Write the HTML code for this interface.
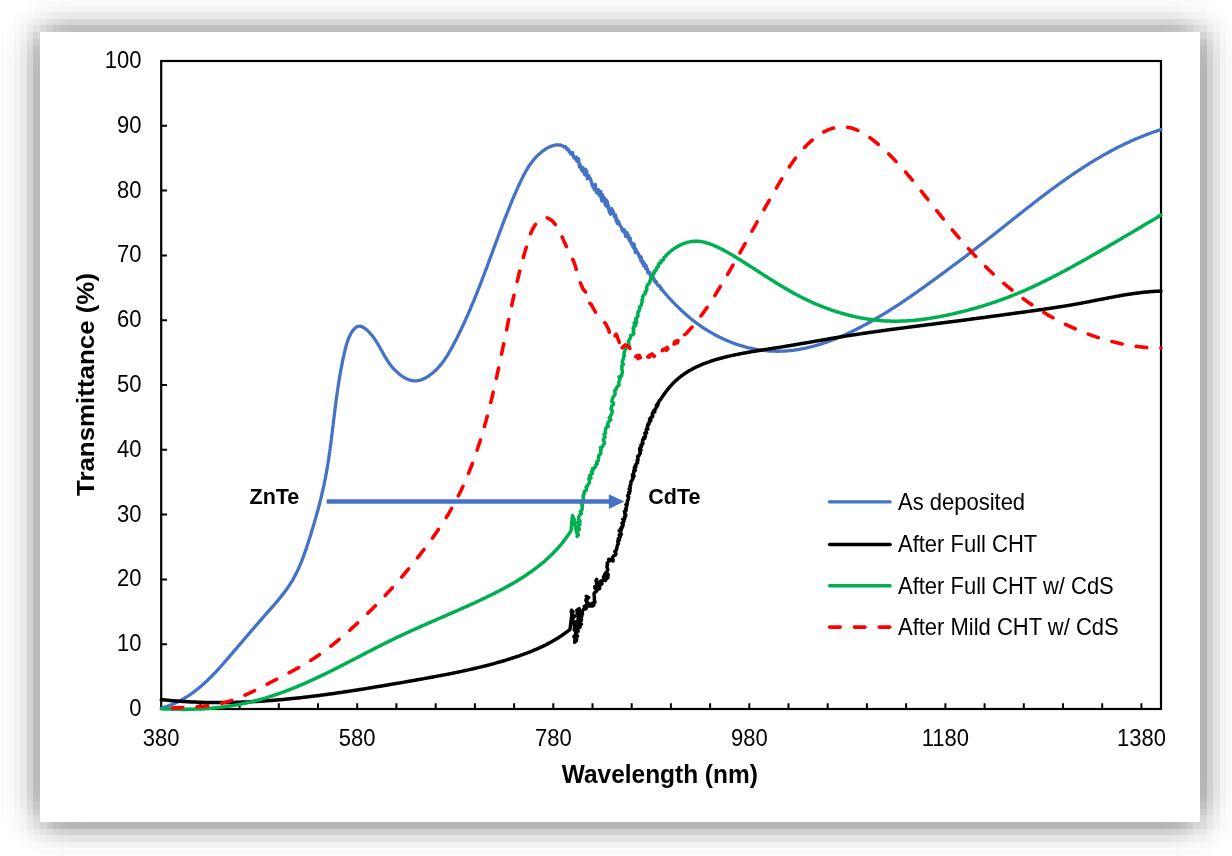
<!DOCTYPE html>
<html><head><meta charset="utf-8"><style>
html,body{margin:0;padding:0;background:#fff;}
body{width:1232px;height:856px;overflow:hidden;position:relative;}
svg{position:absolute;left:0;top:0;}
text{font-family:"Liberation Sans",Arial,sans-serif;fill:#000;}
</style></head><body>
<svg width="1232" height="856" viewBox="0 0 1232 856">
<g shape-rendering="crispEdges"><rect x="53.2" y="-7.5" width="1133.8" height="6.8" fill="#fdfdfd"/><rect x="33.4" y="-0.9" width="6.8" height="6.8" fill="#fdfdfd"/><rect x="40.0" y="-0.9" width="6.8" height="6.8" fill="#fcfcfc"/><rect x="46.6" y="-0.9" width="13.4" height="6.8" fill="#fbfbfb"/><rect x="59.8" y="-0.9" width="1120.7" height="6.8" fill="#fafafa"/><rect x="1180.2" y="-0.9" width="13.4" height="6.8" fill="#fbfbfb"/><rect x="1193.4" y="-0.9" width="6.8" height="6.8" fill="#fcfcfc"/><rect x="1200.0" y="-0.9" width="13.4" height="6.8" fill="#fdfdfd"/><rect x="26.8" y="5.7" width="6.8" height="6.8" fill="#fcfcfc"/><rect x="33.4" y="5.7" width="6.8" height="6.8" fill="#fbfbfb"/><rect x="40.0" y="5.7" width="6.8" height="6.8" fill="#f9f9f9"/><rect x="46.6" y="5.7" width="6.8" height="6.8" fill="#f8f8f8"/><rect x="53.2" y="5.7" width="13.4" height="6.8" fill="#f6f6f6"/><rect x="66.4" y="5.7" width="1107.5" height="6.8" fill="#f5f5f5"/><rect x="1173.6" y="5.7" width="6.8" height="6.8" fill="#f6f6f6"/><rect x="1180.2" y="5.7" width="6.8" height="6.8" fill="#f7f7f7"/><rect x="1186.8" y="5.7" width="6.8" height="6.8" fill="#f8f8f8"/><rect x="1193.4" y="5.7" width="13.4" height="6.8" fill="#fafafa"/><rect x="1206.6" y="5.7" width="6.8" height="6.8" fill="#fcfcfc"/><rect x="1213.2" y="5.7" width="6.8" height="6.8" fill="#fdfdfd"/><rect x="13.6" y="12.2" width="6.8" height="6.8" fill="#fdfdfd"/><rect x="20.2" y="12.2" width="6.8" height="6.8" fill="#fcfcfc"/><rect x="26.8" y="12.2" width="6.8" height="6.8" fill="#f9f9f9"/><rect x="33.4" y="12.2" width="6.8" height="6.8" fill="#f6f6f6"/><rect x="40.0" y="12.2" width="6.8" height="6.8" fill="#f3f3f3"/><rect x="46.6" y="12.2" width="6.8" height="6.8" fill="#efefef"/><rect x="53.2" y="12.2" width="6.8" height="6.8" fill="#ececec"/><rect x="59.8" y="12.2" width="6.8" height="6.8" fill="#ebebeb"/><rect x="66.4" y="12.2" width="6.8" height="6.8" fill="#eaeaea"/><rect x="73.0" y="12.2" width="1094.3" height="6.8" fill="#e9e9e9"/><rect x="1167.0" y="12.2" width="6.8" height="6.8" fill="#eaeaea"/><rect x="1173.6" y="12.2" width="6.8" height="6.8" fill="#ebebeb"/><rect x="1180.2" y="12.2" width="6.8" height="6.8" fill="#ededed"/><rect x="1186.8" y="12.2" width="6.8" height="6.8" fill="#f0f0f0"/><rect x="1193.4" y="12.2" width="6.8" height="6.8" fill="#f3f3f3"/><rect x="1200.0" y="12.2" width="6.8" height="6.8" fill="#f5f5f5"/><rect x="1206.6" y="12.2" width="6.8" height="6.8" fill="#f8f8f8"/><rect x="1213.2" y="12.2" width="6.8" height="6.8" fill="#fbfbfb"/><rect x="1219.8" y="12.2" width="6.8" height="6.8" fill="#fdfdfd"/><rect x="13.6" y="18.8" width="6.8" height="6.8" fill="#fcfcfc"/><rect x="20.2" y="18.8" width="6.8" height="6.8" fill="#f9f9f9"/><rect x="26.8" y="18.8" width="6.8" height="6.8" fill="#f4f4f4"/><rect x="33.4" y="18.8" width="6.8" height="6.8" fill="#ededed"/><rect x="40.0" y="18.8" width="6.8" height="6.8" fill="#e8e8e8"/><rect x="46.6" y="18.8" width="6.8" height="6.8" fill="#e1e1e1"/><rect x="53.2" y="18.8" width="6.8" height="6.8" fill="#dcdcdc"/><rect x="59.8" y="18.8" width="6.8" height="6.8" fill="#d9d9d9"/><rect x="66.4" y="18.8" width="13.4" height="6.8" fill="#d7d7d7"/><rect x="79.5" y="18.8" width="1087.7" height="6.8" fill="#d6d6d6"/><rect x="1167.0" y="18.8" width="6.8" height="6.8" fill="#d7d7d7"/><rect x="1173.6" y="18.8" width="6.8" height="6.8" fill="#d9d9d9"/><rect x="1180.2" y="18.8" width="6.8" height="6.8" fill="#dddddd"/><rect x="1186.8" y="18.8" width="6.8" height="6.8" fill="#e2e2e2"/><rect x="1193.4" y="18.8" width="6.8" height="6.8" fill="#e9e9e9"/><rect x="1200.0" y="18.8" width="6.8" height="6.8" fill="#ececec"/><rect x="1206.6" y="18.8" width="6.8" height="6.8" fill="#f3f3f3"/><rect x="1213.2" y="18.8" width="6.8" height="6.8" fill="#f8f8f8"/><rect x="1219.8" y="18.8" width="6.8" height="6.8" fill="#fcfcfc"/><rect x="7.0" y="25.4" width="6.8" height="6.8" fill="#fdfdfd"/><rect x="13.6" y="25.4" width="6.8" height="6.8" fill="#fafafa"/><rect x="20.2" y="25.4" width="6.8" height="6.8" fill="#f6f6f6"/><rect x="26.8" y="25.4" width="6.8" height="6.8" fill="#ededed"/><rect x="33.4" y="25.4" width="6.8" height="6.8" fill="#e3e3e3"/><rect x="40.0" y="25.4" width="6.8" height="6.8" fill="#dadada"/><rect x="46.6" y="25.4" width="6.8" height="6.8" fill="#d0d0d0"/><rect x="53.2" y="25.4" width="6.8" height="6.8" fill="#c7c7c7"/><rect x="59.8" y="25.4" width="6.8" height="6.8" fill="#c3c3c3"/><rect x="66.4" y="25.4" width="6.8" height="6.8" fill="#c0c0c0"/><rect x="73.0" y="25.4" width="6.8" height="6.8" fill="#bfbfbf"/><rect x="79.5" y="25.4" width="1081.1" height="6.8" fill="#bebebe"/><rect x="1160.5" y="25.4" width="6.8" height="6.8" fill="#bfbfbf"/><rect x="1167.0" y="25.4" width="6.8" height="6.8" fill="#c0c0c0"/><rect x="1173.6" y="25.4" width="6.8" height="6.8" fill="#c3c3c3"/><rect x="1180.2" y="25.4" width="6.8" height="6.8" fill="#c9c9c9"/><rect x="1186.8" y="25.4" width="6.8" height="6.8" fill="#d1d1d1"/><rect x="1193.4" y="25.4" width="6.8" height="6.8" fill="#dcdcdc"/><rect x="1200.0" y="25.4" width="6.8" height="6.8" fill="#e1e1e1"/><rect x="1206.6" y="25.4" width="6.8" height="6.8" fill="#ececec"/><rect x="1213.2" y="25.4" width="6.8" height="6.8" fill="#f4f4f4"/><rect x="1219.8" y="25.4" width="6.8" height="6.8" fill="#fafafa"/><rect x="1226.4" y="25.4" width="6.8" height="6.8" fill="#fdfdfd"/><rect x="7.0" y="822.0" width="6.8" height="6.8" fill="#fdfdfd"/><rect x="13.6" y="822.0" width="6.8" height="6.8" fill="#f9f9f9"/><rect x="20.2" y="822.0" width="6.8" height="6.8" fill="#f5f5f5"/><rect x="26.8" y="822.0" width="6.8" height="6.8" fill="#ebebeb"/><rect x="33.4" y="822.0" width="6.8" height="6.8" fill="#dfdfdf"/><rect x="40.0" y="822.0" width="6.8" height="6.8" fill="#d5d5d5"/><rect x="46.6" y="822.0" width="6.8" height="6.8" fill="#c9c9c9"/><rect x="53.2" y="822.0" width="6.8" height="6.8" fill="#bfbfbf"/><rect x="59.8" y="822.0" width="6.8" height="6.8" fill="#bbbbbb"/><rect x="66.4" y="822.0" width="6.8" height="6.8" fill="#b7b7b7"/><rect x="73.0" y="822.0" width="13.4" height="6.8" fill="#b6b6b6"/><rect x="86.1" y="822.0" width="1074.5" height="6.8" fill="#b5b5b5"/><rect x="1160.5" y="822.0" width="6.8" height="6.8" fill="#b6b6b6"/><rect x="1167.0" y="822.0" width="6.8" height="6.8" fill="#b7b7b7"/><rect x="1173.6" y="822.0" width="6.8" height="6.8" fill="#bbbbbb"/><rect x="1180.2" y="822.0" width="6.8" height="6.8" fill="#c2c2c2"/><rect x="1186.8" y="822.0" width="6.8" height="6.8" fill="#cbcbcb"/><rect x="1193.4" y="822.0" width="6.8" height="6.8" fill="#d8d8d8"/><rect x="1200.0" y="822.0" width="6.8" height="6.8" fill="#dcdcdc"/><rect x="1206.6" y="822.0" width="6.8" height="6.8" fill="#e9e9e9"/><rect x="1213.2" y="822.0" width="6.8" height="6.8" fill="#f2f2f2"/><rect x="1219.8" y="822.0" width="6.8" height="6.8" fill="#f9f9f9"/><rect x="1226.4" y="822.0" width="6.8" height="6.8" fill="#fdfdfd"/><rect x="7.0" y="828.6" width="6.8" height="6.8" fill="#fdfdfd"/><rect x="13.6" y="828.6" width="6.8" height="6.8" fill="#fbfbfb"/><rect x="20.2" y="828.6" width="6.8" height="6.8" fill="#f8f8f8"/><rect x="26.8" y="828.6" width="6.8" height="6.8" fill="#f2f2f2"/><rect x="33.4" y="828.6" width="6.8" height="6.8" fill="#ebebeb"/><rect x="40.0" y="828.6" width="6.8" height="6.8" fill="#e4e4e4"/><rect x="46.6" y="828.6" width="6.8" height="6.8" fill="#dddddd"/><rect x="53.2" y="828.6" width="6.8" height="6.8" fill="#d7d7d7"/><rect x="59.8" y="828.6" width="6.8" height="6.8" fill="#d4d4d4"/><rect x="66.4" y="828.6" width="6.8" height="6.8" fill="#d2d2d2"/><rect x="73.0" y="828.6" width="6.8" height="6.8" fill="#d1d1d1"/><rect x="79.5" y="828.6" width="1081.1" height="6.8" fill="#d0d0d0"/><rect x="1160.5" y="828.6" width="6.8" height="6.8" fill="#d1d1d1"/><rect x="1167.0" y="828.6" width="6.8" height="6.8" fill="#d2d2d2"/><rect x="1173.6" y="828.6" width="6.8" height="6.8" fill="#d4d4d4"/><rect x="1180.2" y="828.6" width="6.8" height="6.8" fill="#d8d8d8"/><rect x="1186.8" y="828.6" width="6.8" height="6.8" fill="#dedede"/><rect x="1193.4" y="828.6" width="6.8" height="6.8" fill="#e6e6e6"/><rect x="1200.0" y="828.6" width="6.8" height="6.8" fill="#e9e9e9"/><rect x="1206.6" y="828.6" width="6.8" height="6.8" fill="#f1f1f1"/><rect x="1213.2" y="828.6" width="6.8" height="6.8" fill="#f7f7f7"/><rect x="1219.8" y="828.6" width="6.8" height="6.8" fill="#fbfbfb"/><rect x="1226.4" y="828.6" width="6.8" height="6.8" fill="#fdfdfd"/><rect x="13.6" y="835.2" width="6.8" height="6.8" fill="#fdfdfd"/><rect x="20.2" y="835.2" width="6.8" height="6.8" fill="#fbfbfb"/><rect x="26.8" y="835.2" width="6.8" height="6.8" fill="#f8f8f8"/><rect x="33.4" y="835.2" width="6.8" height="6.8" fill="#f3f3f3"/><rect x="40.0" y="835.2" width="6.8" height="6.8" fill="#f0f0f0"/><rect x="46.6" y="835.2" width="6.8" height="6.8" fill="#ebebeb"/><rect x="53.2" y="835.2" width="6.8" height="6.8" fill="#e8e8e8"/><rect x="59.8" y="835.2" width="6.8" height="6.8" fill="#e6e6e6"/><rect x="66.4" y="835.2" width="6.8" height="6.8" fill="#e5e5e5"/><rect x="73.0" y="835.2" width="1094.3" height="6.8" fill="#e4e4e4"/><rect x="1167.0" y="835.2" width="6.8" height="6.8" fill="#e5e5e5"/><rect x="1173.6" y="835.2" width="6.8" height="6.8" fill="#e6e6e6"/><rect x="1180.2" y="835.2" width="6.8" height="6.8" fill="#e9e9e9"/><rect x="1186.8" y="835.2" width="6.8" height="6.8" fill="#ececec"/><rect x="1193.4" y="835.2" width="6.8" height="6.8" fill="#f1f1f1"/><rect x="1200.0" y="835.2" width="6.8" height="6.8" fill="#f2f2f2"/><rect x="1206.6" y="835.2" width="6.8" height="6.8" fill="#f7f7f7"/><rect x="1213.2" y="835.2" width="6.8" height="6.8" fill="#fafafa"/><rect x="1219.8" y="835.2" width="6.8" height="6.8" fill="#fdfdfd"/><rect x="20.2" y="841.8" width="6.8" height="6.8" fill="#fdfdfd"/><rect x="26.8" y="841.8" width="6.8" height="6.8" fill="#fcfcfc"/><rect x="33.4" y="841.8" width="6.8" height="6.8" fill="#fafafa"/><rect x="40.0" y="841.8" width="6.8" height="6.8" fill="#f8f8f8"/><rect x="46.6" y="841.8" width="6.8" height="6.8" fill="#f6f6f6"/><rect x="53.2" y="841.8" width="6.8" height="6.8" fill="#f5f5f5"/><rect x="59.8" y="841.8" width="6.8" height="6.8" fill="#f4f4f4"/><rect x="66.4" y="841.8" width="1107.5" height="6.8" fill="#f3f3f3"/><rect x="1173.6" y="841.8" width="6.8" height="6.8" fill="#f4f4f4"/><rect x="1180.2" y="841.8" width="6.8" height="6.8" fill="#f5f5f5"/><rect x="1186.8" y="841.8" width="6.8" height="6.8" fill="#f7f7f7"/><rect x="1193.4" y="841.8" width="13.4" height="6.8" fill="#f9f9f9"/><rect x="1206.6" y="841.8" width="6.8" height="6.8" fill="#fbfbfb"/><rect x="1213.2" y="841.8" width="6.8" height="6.8" fill="#fdfdfd"/><rect x="33.4" y="848.3" width="6.8" height="6.8" fill="#fdfdfd"/><rect x="40.0" y="848.3" width="6.8" height="6.8" fill="#fcfcfc"/><rect x="46.6" y="848.3" width="13.4" height="6.8" fill="#fbfbfb"/><rect x="59.8" y="848.3" width="1120.7" height="6.8" fill="#fafafa"/><rect x="1180.2" y="848.3" width="13.4" height="6.8" fill="#fbfbfb"/><rect x="1193.4" y="848.3" width="6.8" height="6.8" fill="#fcfcfc"/><rect x="1200.0" y="848.3" width="13.4" height="6.8" fill="#fdfdfd"/><rect x="53.2" y="854.9" width="1133.8" height="6.8" fill="#fdfdfd"/><rect x="0.5" y="32.0" width="6.8" height="13.4" fill="#fdfdfd"/><rect x="0.5" y="45.2" width="6.8" height="763.9" fill="#fcfcfc"/><rect x="0.5" y="808.8" width="6.8" height="13.4" fill="#fdfdfd"/><rect x="7.0" y="32.0" width="6.8" height="6.8" fill="#fcfcfc"/><rect x="7.0" y="38.6" width="6.8" height="13.4" fill="#fbfbfb"/><rect x="7.0" y="51.8" width="6.8" height="750.7" fill="#fafafa"/><rect x="7.0" y="802.2" width="6.8" height="13.4" fill="#fbfbfb"/><rect x="7.0" y="815.4" width="6.8" height="6.8" fill="#fcfcfc"/><rect x="13.6" y="32.0" width="6.8" height="6.8" fill="#f8f8f8"/><rect x="13.6" y="38.6" width="6.8" height="6.8" fill="#f6f6f6"/><rect x="13.6" y="45.2" width="6.8" height="6.8" fill="#f5f5f5"/><rect x="13.6" y="51.8" width="6.8" height="6.8" fill="#f4f4f4"/><rect x="13.6" y="58.3" width="6.8" height="737.5" fill="#f3f3f3"/><rect x="13.6" y="795.7" width="6.8" height="6.8" fill="#f4f4f4"/><rect x="13.6" y="802.2" width="6.8" height="6.8" fill="#f5f5f5"/><rect x="13.6" y="808.8" width="6.8" height="6.8" fill="#f7f7f7"/><rect x="13.6" y="815.4" width="6.8" height="6.8" fill="#f9f9f9"/><rect x="20.2" y="32.0" width="6.8" height="6.8" fill="#f2f2f2"/><rect x="20.2" y="38.6" width="6.8" height="6.8" fill="#efefef"/><rect x="20.2" y="45.2" width="6.8" height="6.8" fill="#ececec"/><rect x="20.2" y="51.8" width="6.8" height="13.4" fill="#eaeaea"/><rect x="20.2" y="64.9" width="6.8" height="724.4" fill="#e9e9e9"/><rect x="20.2" y="789.1" width="6.8" height="6.8" fill="#eaeaea"/><rect x="20.2" y="795.7" width="6.8" height="6.8" fill="#ebebeb"/><rect x="20.2" y="802.2" width="6.8" height="6.8" fill="#ededed"/><rect x="20.2" y="808.8" width="6.8" height="6.8" fill="#f0f0f0"/><rect x="20.2" y="815.4" width="6.8" height="6.8" fill="#f3f3f3"/><rect x="26.8" y="32.0" width="6.8" height="6.8" fill="#e6e6e6"/><rect x="26.8" y="38.6" width="6.8" height="6.8" fill="#dfdfdf"/><rect x="26.8" y="45.2" width="6.8" height="6.8" fill="#dadada"/><rect x="26.8" y="51.8" width="6.8" height="6.8" fill="#d7d7d7"/><rect x="26.8" y="58.3" width="6.8" height="6.8" fill="#d5d5d5"/><rect x="26.8" y="64.9" width="6.8" height="724.4" fill="#d4d4d4"/><rect x="26.8" y="789.1" width="6.8" height="6.8" fill="#d5d5d5"/><rect x="26.8" y="795.7" width="6.8" height="6.8" fill="#d7d7d7"/><rect x="26.8" y="802.2" width="6.8" height="6.8" fill="#dbdbdb"/><rect x="26.8" y="808.8" width="6.8" height="6.8" fill="#e1e1e1"/><rect x="26.8" y="815.4" width="6.8" height="6.8" fill="#e8e8e8"/><rect x="33.4" y="32.0" width="6.8" height="6.8" fill="#d7d7d7"/><rect x="33.4" y="38.6" width="6.8" height="6.8" fill="#cdcdcd"/><rect x="33.4" y="45.2" width="6.8" height="6.8" fill="#c4c4c4"/><rect x="33.4" y="51.8" width="6.8" height="6.8" fill="#bfbfbf"/><rect x="33.4" y="58.3" width="6.8" height="6.8" fill="#bdbdbd"/><rect x="33.4" y="64.9" width="6.8" height="6.8" fill="#bcbcbc"/><rect x="33.4" y="71.5" width="6.8" height="711.2" fill="#bbbbbb"/><rect x="33.4" y="782.5" width="6.8" height="6.8" fill="#bcbcbc"/><rect x="33.4" y="789.1" width="6.8" height="6.8" fill="#bdbdbd"/><rect x="33.4" y="795.7" width="6.8" height="6.8" fill="#c0c0c0"/><rect x="33.4" y="802.2" width="6.8" height="6.8" fill="#c7c7c7"/><rect x="33.4" y="808.8" width="6.8" height="6.8" fill="#cfcfcf"/><rect x="33.4" y="815.4" width="6.8" height="6.8" fill="#dbdbdb"/><rect x="1200.0" y="32.0" width="6.8" height="6.8" fill="#d3d3d3"/><rect x="1200.0" y="38.6" width="6.8" height="6.8" fill="#c8c8c8"/><rect x="1200.0" y="45.2" width="6.8" height="6.8" fill="#bfbfbf"/><rect x="1200.0" y="51.8" width="6.8" height="6.8" fill="#bababa"/><rect x="1200.0" y="58.3" width="6.8" height="6.8" fill="#b7b7b7"/><rect x="1200.0" y="64.9" width="6.8" height="6.8" fill="#b6b6b6"/><rect x="1200.0" y="71.5" width="6.8" height="711.2" fill="#b5b5b5"/><rect x="1200.0" y="782.5" width="6.8" height="6.8" fill="#b6b6b6"/><rect x="1200.0" y="789.1" width="6.8" height="6.8" fill="#b7b7b7"/><rect x="1200.0" y="795.7" width="6.8" height="6.8" fill="#bbbbbb"/><rect x="1200.0" y="802.2" width="6.8" height="6.8" fill="#c2c2c2"/><rect x="1200.0" y="808.8" width="6.8" height="6.8" fill="#cbcbcb"/><rect x="1200.0" y="815.4" width="6.8" height="6.8" fill="#d8d8d8"/><rect x="1206.6" y="32.0" width="6.8" height="6.8" fill="#e3e3e3"/><rect x="1206.6" y="38.6" width="6.8" height="6.8" fill="#dcdcdc"/><rect x="1206.6" y="45.2" width="6.8" height="6.8" fill="#d7d7d7"/><rect x="1206.6" y="51.8" width="6.8" height="6.8" fill="#d3d3d3"/><rect x="1206.6" y="58.3" width="6.8" height="6.8" fill="#d2d2d2"/><rect x="1206.6" y="64.9" width="6.8" height="6.8" fill="#d1d1d1"/><rect x="1206.6" y="71.5" width="6.8" height="711.2" fill="#d0d0d0"/><rect x="1206.6" y="782.5" width="6.8" height="6.8" fill="#d1d1d1"/><rect x="1206.6" y="789.1" width="6.8" height="6.8" fill="#d2d2d2"/><rect x="1206.6" y="795.7" width="6.8" height="6.8" fill="#d4d4d4"/><rect x="1206.6" y="802.2" width="6.8" height="6.8" fill="#d8d8d8"/><rect x="1206.6" y="808.8" width="6.8" height="6.8" fill="#dedede"/><rect x="1206.6" y="815.4" width="6.8" height="6.8" fill="#e6e6e6"/><rect x="1213.2" y="32.0" width="6.8" height="6.8" fill="#efefef"/><rect x="1213.2" y="38.6" width="6.8" height="6.8" fill="#ebebeb"/><rect x="1213.2" y="45.2" width="6.8" height="6.8" fill="#e8e8e8"/><rect x="1213.2" y="51.8" width="6.8" height="6.8" fill="#e6e6e6"/><rect x="1213.2" y="58.3" width="6.8" height="6.8" fill="#e5e5e5"/><rect x="1213.2" y="64.9" width="6.8" height="724.4" fill="#e4e4e4"/><rect x="1213.2" y="789.1" width="6.8" height="6.8" fill="#e5e5e5"/><rect x="1213.2" y="795.7" width="6.8" height="6.8" fill="#e6e6e6"/><rect x="1213.2" y="802.2" width="6.8" height="6.8" fill="#e9e9e9"/><rect x="1213.2" y="808.8" width="6.8" height="6.8" fill="#ececec"/><rect x="1213.2" y="815.4" width="6.8" height="6.8" fill="#f1f1f1"/><rect x="1219.8" y="32.0" width="6.8" height="6.8" fill="#f8f8f8"/><rect x="1219.8" y="38.6" width="6.8" height="6.8" fill="#f6f6f6"/><rect x="1219.8" y="45.2" width="6.8" height="6.8" fill="#f5f5f5"/><rect x="1219.8" y="51.8" width="6.8" height="6.8" fill="#f4f4f4"/><rect x="1219.8" y="58.3" width="6.8" height="737.5" fill="#f3f3f3"/><rect x="1219.8" y="795.7" width="6.8" height="6.8" fill="#f4f4f4"/><rect x="1219.8" y="802.2" width="6.8" height="6.8" fill="#f5f5f5"/><rect x="1219.8" y="808.8" width="6.8" height="6.8" fill="#f7f7f7"/><rect x="1219.8" y="815.4" width="6.8" height="6.8" fill="#f9f9f9"/><rect x="1226.4" y="32.0" width="6.8" height="6.8" fill="#fcfcfc"/><rect x="1226.4" y="38.6" width="6.8" height="13.4" fill="#fbfbfb"/><rect x="1226.4" y="51.8" width="6.8" height="750.7" fill="#fafafa"/><rect x="1226.4" y="802.2" width="6.8" height="13.4" fill="#fbfbfb"/><rect x="1226.4" y="815.4" width="6.8" height="6.8" fill="#fcfcfc"/><rect x="1233.0" y="38.6" width="6.8" height="770.5" fill="#fdfdfd"/></g>
<g font-size="22" text-anchor="end"><text transform="translate(141.5 716.0) scale(1 1.1)">0</text><text transform="translate(141.5 651.2) scale(1 1.1)">10</text><text transform="translate(141.5 586.4) scale(1 1.1)">20</text><text transform="translate(141.5 521.6) scale(1 1.1)">30</text><text transform="translate(141.5 456.8) scale(1 1.1)">40</text><text transform="translate(141.5 392.0) scale(1 1.1)">50</text><text transform="translate(141.5 327.2) scale(1 1.1)">60</text><text transform="translate(141.5 262.4) scale(1 1.1)">70</text><text transform="translate(141.5 197.6) scale(1 1.1)">80</text><text transform="translate(141.5 132.8) scale(1 1.1)">90</text><text transform="translate(141.5 68.0) scale(1 1.1)">100</text></g>
<g font-size="22" text-anchor="middle"><text transform="translate(161.2 745.6) scale(1 1.1)">380</text><text transform="translate(357.2 745.6) scale(1 1.1)">580</text><text transform="translate(553.3 745.6) scale(1 1.1)">780</text><text transform="translate(749.3 745.6) scale(1 1.1)">980</text><text transform="translate(945.4 745.6) scale(1 1.1)">1180</text><text transform="translate(1141.4 745.6) scale(1 1.1)">1380</text></g>
<text transform="translate(659.8 782.6) scale(1 1.08)" font-size="24.45" font-weight="bold" text-anchor="middle">Wavelength (nm)</text>
<text transform="translate(93.6 384.5) rotate(-90)" font-size="24" font-weight="bold" text-anchor="middle" textLength="223" lengthAdjust="spacingAndGlyphs">Transmittance (%)</text>
<rect x="161.2" y="61.0" width="999.8" height="648.0" fill="none" stroke="#000" stroke-width="2.2"/>
<path d="M161.2 644.2h5.8 M161.2 579.4h5.8 M161.2 514.6h5.8 M161.2 449.8h5.8 M161.2 385.0h5.8 M161.2 320.2h5.8 M161.2 255.4h5.8 M161.2 190.6h5.8 M161.2 125.8h5.8 M200.4 709.0v-5.8 M239.6 709.0v-5.8 M278.8 709.0v-5.8 M318.0 709.0v-5.8 M357.2 709.0v-5.8 M396.4 709.0v-5.8 M435.7 709.0v-5.8 M474.9 709.0v-5.8 M514.1 709.0v-5.8 M553.3 709.0v-5.8 M592.5 709.0v-5.8 M631.7 709.0v-5.8 M670.9 709.0v-5.8 M710.1 709.0v-5.8 M749.3 709.0v-5.8 M788.5 709.0v-5.8 M827.7 709.0v-5.8 M866.9 709.0v-5.8 M906.1 709.0v-5.8 M945.4 709.0v-5.8 M984.6 709.0v-5.8 M1023.8 709.0v-5.8 M1063.0 709.0v-5.8 M1102.2 709.0v-5.8 M1141.4 709.0v-5.8" stroke="#000" stroke-width="2" fill="none"/>
<g fill="none" stroke-linejoin="round" stroke-linecap="round">
<path d="M161.5 708.0 L162.5 707.7 L163.5 707.5 L164.5 707.2 L165.4 706.9 L166.4 706.6 L167.4 706.2 L168.3 705.9 L169.3 705.6 L170.2 705.2 L171.2 704.8 L172.1 704.5 L173.0 704.1 L173.9 703.7 L174.8 703.3 L175.7 702.9 L176.6 702.5 L177.5 702.0 L178.4 701.6 L179.3 701.1 L180.2 700.7 L181.1 700.2 L181.9 699.7 L182.8 699.2 L183.6 698.7 L184.5 698.2 L185.3 697.7 L186.2 697.2 L187.0 696.7 L187.9 696.1 L188.7 695.6 L189.5 695.1 L190.3 694.5 L191.1 693.9 L191.9 693.4 L192.7 692.8 L193.5 692.2 L194.3 691.6 L195.1 691.0 L195.9 690.4 L196.7 689.8 L197.5 689.2 L198.2 688.5 L199.0 687.9 L199.8 687.3 L200.5 686.6 L201.3 686.0 L202.0 685.3 L202.8 684.7 L203.5 684.0 L204.3 683.3 L205.0 682.6 L205.7 682.0 L206.5 681.3 L207.2 680.6 L207.9 679.9 L208.6 679.2 L209.3 678.5 L210.1 677.8 L210.8 677.1 L211.5 676.4 L212.2 675.7 L212.9 674.9 L213.6 674.2 L214.3 673.5 L215.0 672.8 L215.7 672.0 L216.4 671.3 L217.0 670.6 L217.7 669.8 L218.4 669.1 L219.1 668.3 L219.8 667.6 L220.4 666.8 L221.1 666.1 L221.8 665.3 L222.5 664.6 L223.1 663.8 L223.8 663.1 L224.4 662.3 L225.1 661.5 L225.8 660.8 L226.4 660.0 L227.1 659.3 L227.7 658.5 L228.4 657.7 L229.1 657.0 L229.7 656.2 L230.4 655.4 L231.0 654.7 L231.7 653.9 L232.3 653.2 L233.0 652.4 L233.6 651.6 L234.2 650.9 L234.9 650.1 L235.5 649.4 L236.2 648.6 L236.8 647.8 L237.5 647.1 L238.1 646.3 L238.7 645.6 L239.4 644.8 L240.0 644.1 L240.7 643.3 L241.3 642.6 L242.0 641.8 L242.6 641.1 L243.2 640.3 L243.9 639.6 L244.5 638.9 L245.2 638.1 L245.8 637.4 L246.4 636.6 L247.1 635.9 L247.7 635.1 L248.4 634.4 L249.0 633.6 L249.6 632.9 L250.3 632.2 L250.9 631.4 L251.6 630.7 L252.2 629.9 L252.9 629.2 L253.5 628.4 L254.1 627.7 L254.8 627.0 L255.4 626.2 L256.1 625.5 L256.7 624.7 L257.4 624.0 L258.0 623.2 L258.7 622.5 L259.3 621.7 L260.0 621.0 L260.6 620.2 L261.3 619.5 L261.9 618.7 L262.6 618.0 L263.3 617.2 L263.9 616.5 L264.6 615.7 L265.2 615.0 L265.9 614.2 L266.6 613.5 L267.2 612.7 L267.9 611.9 L268.6 611.2 L269.2 610.4 L269.9 609.7 L270.6 608.9 L271.3 608.1 L271.9 607.4 L272.6 606.6 L273.3 605.8 L274.0 605.0 L274.6 604.3 L275.3 603.5 L276.0 602.7 L276.6 601.9 L277.3 601.2 L277.9 600.4 L278.6 599.6 L279.2 598.8 L279.9 598.0 L280.5 597.2 L281.2 596.4 L281.8 595.6 L282.5 594.8 L283.1 594.0 L283.7 593.2 L284.3 592.4 L284.9 591.6 L285.5 590.8 L286.1 590.0 L286.7 589.1 L287.3 588.3 L287.9 587.5 L288.4 586.7 L289.0 585.8 L289.5 585.0 L290.1 584.2 L290.6 583.3 L291.1 582.5 L291.7 581.7 L292.2 580.8 L292.7 580.0 L293.2 579.1 L293.6 578.2 L294.1 577.4 L294.6 576.5 L295.0 575.7 L295.5 574.8 L295.9 573.9 L296.4 573.1 L296.8 572.2 L297.2 571.3 L297.6 570.4 L298.1 569.5 L298.5 568.6 L298.9 567.8 L299.3 566.9 L299.6 566.0 L300.0 565.1 L300.4 564.2 L300.8 563.3 L301.1 562.4 L301.5 561.5 L301.9 560.6 L302.2 559.7 L302.6 558.7 L302.9 557.8 L303.3 556.9 L303.6 556.0 L303.9 555.1 L304.3 554.2 L304.6 553.2 L304.9 552.3 L305.2 551.4 L305.6 550.5 L305.9 549.5 L306.2 548.6 L306.5 547.7 L306.8 546.7 L307.1 545.8 L307.4 544.8 L307.7 543.9 L308.1 542.9 L308.4 542.0 L308.7 541.1 L309.0 540.1 L309.3 539.2 L309.6 538.2 L309.9 537.3 L310.2 536.3 L310.5 535.3 L310.8 534.4 L311.1 533.4 L311.4 532.5 L311.7 531.5 L311.9 530.5 L312.2 529.6 L312.5 528.6 L312.8 527.6 L313.1 526.7 L313.4 525.7 L313.7 524.7 L314.0 523.8 L314.3 522.8 L314.6 521.8 L314.8 520.8 L315.1 519.9 L315.4 518.9 L315.7 517.9 L316.0 516.9 L316.2 516.0 L316.5 515.0 L316.8 514.0 L317.1 513.0 L317.3 512.0 L317.6 511.1 L317.9 510.1 L318.1 509.1 L318.4 508.1 L318.6 507.1 L318.9 506.1 L319.2 505.2 L319.4 504.2 L319.7 503.2 L319.9 502.2 L320.2 501.2 L320.4 500.2 L320.7 499.2 L320.9 498.3 L321.2 497.3 L321.4 496.3 L321.6 495.3 L321.9 494.3 L322.1 493.3 L322.3 492.3 L322.5 491.3 L322.8 490.4 L323.0 489.4 L323.2 488.4 L323.4 487.4 L323.6 486.4 L323.9 485.4 L324.1 484.4 L324.3 483.4 L324.5 482.4 L324.7 481.5 L324.9 480.5 L325.1 479.5 L325.3 478.5 L325.5 477.5 L325.7 476.5 L325.8 475.5 L326.0 474.6 L326.2 473.6 L326.4 472.6 L326.6 471.6 L326.7 470.6 L326.9 469.6 L327.1 468.7 L327.2 467.7 L327.4 466.7 L327.6 465.7 L327.7 464.7 L327.9 463.7 L328.0 462.8 L328.2 461.8 L328.4 460.8 L328.5 459.8 L328.7 458.8 L328.8 457.9 L328.9 456.9 L329.1 455.9 L329.2 454.9 L329.4 453.9 L329.5 452.9 L329.7 452.0 L329.8 451.0 L329.9 450.0 L330.1 449.0 L330.2 448.0 L330.3 447.1 L330.5 446.1 L330.6 445.1 L330.7 444.1 L330.8 443.1 L331.0 442.2 L331.1 441.2 L331.2 440.2 L331.4 439.2 L331.5 438.2 L331.6 437.3 L331.7 436.3 L331.8 435.3 L332.0 434.3 L332.1 433.3 L332.2 432.4 L332.3 431.4 L332.4 430.4 L332.6 429.4 L332.7 428.4 L332.8 427.4 L332.9 426.5 L333.0 425.5 L333.2 424.5 L333.3 423.5 L333.4 422.5 L333.5 421.6 L333.6 420.6 L333.7 419.6 L333.9 418.6 L334.0 417.6 L334.1 416.6 L334.2 415.7 L334.3 414.7 L334.5 413.7 L334.6 412.7 L334.7 411.7 L334.8 410.7 L334.9 409.8 L335.1 408.8 L335.2 407.8 L335.3 406.8 L335.4 405.8 L335.6 404.8 L335.7 403.9 L335.8 402.9 L335.9 401.9 L336.1 400.9 L336.2 399.9 L336.3 398.9 L336.5 397.9 L336.6 396.9 L336.7 396.0 L336.9 395.0 L337.0 394.0 L337.1 393.0 L337.3 392.0 L337.4 391.0 L337.6 390.0 L337.7 389.0 L337.9 388.0 L338.0 387.1 L338.2 386.1 L338.3 385.1 L338.5 384.1 L338.6 383.1 L338.8 382.1 L338.9 381.1 L339.1 380.1 L339.3 379.1 L339.4 378.1 L339.6 377.1 L339.8 376.1 L339.9 375.1 L340.1 374.1 L340.3 373.1 L340.5 372.1 L340.6 371.1 L340.8 370.1 L341.0 369.1 L341.2 368.1 L341.4 367.1 L341.6 366.1 L341.8 365.1 L342.0 364.1 L342.2 363.1 L342.4 362.1 L342.6 361.1 L342.8 360.1 L343.0 359.1 L343.2 358.1 L343.4 357.1 L343.7 356.1 L343.9 355.1 L344.1 354.1 L344.3 353.1 L344.6 352.1 L344.8 351.1 L345.1 350.0 L345.3 349.0 L345.6 348.0 L345.8 347.0 L346.1 346.0 L346.4 345.0 L346.6 344.1 L346.9 343.1 L347.2 342.1 L347.6 341.2 L347.9 340.2 L348.2 339.3 L348.6 338.4 L349.0 337.5 L349.4 336.6 L349.8 335.7 L350.2 334.9 L350.6 334.0 L351.1 333.2 L351.6 332.4 L352.1 331.7 L352.6 330.9 L353.1 330.2 L353.7 329.5 L354.3 328.9 L354.9 328.3 L355.6 327.7 L356.2 327.2 L356.9 326.8 L357.6 326.5 L358.4 326.3 L359.2 326.2 L360.0 326.2 L360.8 326.4 L361.7 326.6 L362.6 327.0 L363.4 327.5 L364.3 328.0 L365.1 328.6 L366.0 329.3 L366.9 330.0 L367.7 330.7 L368.5 331.5 L369.3 332.4 L370.1 333.2 L370.8 334.1 L371.6 334.9 L372.3 335.8 L372.9 336.6 L373.6 337.5 L374.2 338.4 L374.8 339.2 L375.4 340.1 L376.0 341.0 L376.5 341.8 L377.1 342.7 L377.6 343.6 L378.1 344.4 L378.6 345.3 L379.1 346.1 L379.6 347.0 L380.1 347.8 L380.6 348.7 L381.0 349.5 L381.5 350.4 L382.0 351.2 L382.4 352.0 L382.9 352.9 L383.3 353.7 L383.8 354.5 L384.2 355.3 L384.7 356.2 L385.2 357.0 L385.7 357.8 L386.2 358.6 L386.7 359.4 L387.2 360.2 L387.7 361.0 L388.2 361.8 L388.8 362.6 L389.3 363.4 L389.9 364.2 L390.5 365.0 L391.1 365.7 L391.8 366.5 L392.4 367.3 L393.1 368.1 L393.8 368.9 L394.5 369.6 L395.3 370.4 L396.1 371.2 L396.8 371.9 L397.6 372.6 L398.4 373.3 L399.3 374.0 L400.1 374.7 L401.0 375.4 L401.9 376.0 L402.7 376.6 L403.6 377.1 L404.5 377.7 L405.4 378.2 L406.4 378.7 L407.3 379.1 L408.2 379.5 L409.2 379.8 L410.1 380.1 L411.0 380.4 L412.0 380.6 L412.9 380.7 L413.9 380.8 L414.8 380.9 L415.8 380.9 L416.7 380.8 L417.7 380.7 L418.6 380.5 L419.6 380.3 L420.5 380.1 L421.4 379.7 L422.3 379.4 L423.3 379.0 L424.2 378.6 L425.0 378.1 L425.9 377.7 L426.8 377.1 L427.6 376.6 L428.5 376.1 L429.3 375.5 L430.1 374.9 L430.9 374.3 L431.7 373.7 L432.5 373.1 L433.2 372.5 L434.0 371.8 L434.7 371.2 L435.4 370.5 L436.1 369.8 L436.8 369.1 L437.5 368.4 L438.2 367.7 L438.8 367.0 L439.5 366.2 L440.1 365.5 L440.7 364.7 L441.4 363.9 L442.0 363.2 L442.6 362.4 L443.2 361.6 L443.7 360.8 L444.3 360.0 L444.9 359.1 L445.4 358.3 L446.0 357.5 L446.5 356.7 L447.1 355.8 L447.6 355.0 L448.1 354.1 L448.6 353.2 L449.1 352.4 L449.6 351.5 L450.1 350.6 L450.6 349.8 L451.1 348.9 L451.6 348.0 L452.1 347.1 L452.6 346.2 L453.1 345.3 L453.5 344.4 L454.0 343.5 L454.5 342.7 L454.9 341.8 L455.4 340.9 L455.9 340.0 L456.3 339.1 L456.8 338.2 L457.2 337.3 L457.7 336.4 L458.1 335.5 L458.6 334.6 L459.0 333.7 L459.4 332.8 L459.9 331.9 L460.3 331.0 L460.8 330.1 L461.2 329.2 L461.6 328.2 L462.1 327.3 L462.5 326.4 L462.9 325.5 L463.3 324.6 L463.8 323.7 L464.2 322.8 L464.6 321.9 L465.0 321.0 L465.4 320.1 L465.8 319.1 L466.2 318.2 L466.7 317.3 L467.1 316.4 L467.5 315.5 L467.9 314.6 L468.3 313.7 L468.7 312.7 L469.1 311.8 L469.5 310.9 L469.9 310.0 L470.3 309.1 L470.6 308.1 L471.0 307.2 L471.4 306.3 L471.8 305.4 L472.2 304.5 L472.6 303.5 L473.0 302.6 L473.4 301.7 L473.7 300.8 L474.1 299.9 L474.5 298.9 L474.9 298.0 L475.2 297.1 L475.6 296.1 L476.0 295.2 L476.4 294.3 L476.7 293.4 L477.1 292.4 L477.5 291.5 L477.8 290.6 L478.2 289.7 L478.6 288.7 L478.9 287.8 L479.3 286.9 L479.7 285.9 L480.0 285.0 L480.4 284.1 L480.8 283.2 L481.1 282.2 L481.5 281.3 L481.8 280.4 L482.2 279.4 L482.5 278.5 L482.9 277.6 L483.2 276.6 L483.6 275.7 L484.0 274.8 L484.3 273.8 L484.7 272.9 L485.0 272.0 L485.4 271.0 L485.7 270.1 L486.1 269.2 L486.4 268.2 L486.8 267.3 L487.1 266.4 L487.5 265.4 L487.8 264.5 L488.2 263.6 L488.5 262.6 L488.8 261.7 L489.2 260.7 L489.5 259.8 L489.9 258.9 L490.2 257.9 L490.6 257.0 L490.9 256.1 L491.3 255.1 L491.6 254.2 L492.0 253.3 L492.3 252.3 L492.6 251.4 L493.0 250.5 L493.3 249.5 L493.7 248.6 L494.0 247.6 L494.4 246.7 L494.7 245.8 L495.1 244.8 L495.4 243.9 L495.7 243.0 L496.1 242.0 L496.4 241.1 L496.8 240.2 L497.1 239.2 L497.5 238.3 L497.8 237.4 L498.2 236.4 L498.5 235.5 L498.9 234.6 L499.2 233.6 L499.6 232.7 L499.9 231.8 L500.3 230.8 L500.6 229.9 L501.0 229.0 L501.3 228.0 L501.7 227.1 L502.0 226.2 L502.4 225.2 L502.7 224.3 L503.1 223.4 L503.4 222.4 L503.8 221.5 L504.2 220.6 L504.5 219.6 L504.9 218.7 L505.2 217.8 L505.6 216.8 L506.0 215.9 L506.3 215.0 L506.7 214.1 L507.1 213.1 L507.4 212.2 L507.8 211.3 L508.2 210.3 L508.5 209.4 L508.9 208.5 L509.3 207.6 L509.7 206.6 L510.0 205.7 L510.4 204.8 L510.8 203.8 L511.2 202.9 L511.6 202.0 L511.9 201.1 L512.3 200.1 L512.7 199.2 L513.1 198.3 L513.5 197.4 L513.9 196.5 L514.3 195.5 L514.7 194.6 L515.1 193.7 L515.5 192.8 L515.9 191.8 L516.3 190.9 L516.7 190.0 L517.1 189.1 L517.5 188.2 L517.9 187.2 L518.3 186.3 L518.8 185.4 L519.2 184.5 L519.6 183.6 L520.0 182.7 L520.5 181.7 L520.9 180.8 L521.3 179.9 L521.8 179.0 L522.2 178.1 L522.7 177.2 L523.1 176.3 L523.6 175.4 L524.0 174.5 L524.5 173.6 L525.0 172.8 L525.5 171.9 L526.0 171.0 L526.5 170.1 L527.0 169.3 L527.5 168.4 L528.0 167.6 L528.6 166.8 L529.1 165.9 L529.7 165.1 L530.2 164.3 L530.8 163.5 L531.4 162.7 L532.0 161.9 L532.6 161.1 L533.2 160.3 L533.8 159.6 L534.5 158.8 L535.1 158.1 L535.8 157.3 L536.5 156.6 L537.2 155.9 L537.9 155.2 L538.6 154.5 L539.3 153.9 L540.1 153.2 L540.9 152.6 L541.7 151.9 L542.5 151.3 L543.3 150.7 L544.1 150.1 L545.0 149.5 L545.8 149.0 L546.7 148.4 L547.6 147.9 L548.5 147.4 L549.4 147.0 L550.3 146.6 L551.3 146.2 L552.2 145.9 L553.1 145.6 L554.1 145.3 L555.0 145.1 L556.0 145.0 L556.9 144.9 L557.9 144.9 L558.8 145.0 L559.7 145.1 L560.6 144.8 L561.5 145.7 L562.4 145.7 L563.3 146.5 L564.2 147.1 L565.0 146.5 L565.9 146.9 L566.7 149.2 L567.5 148.7 L568.3 149.3 L569.0 151.5 L569.8 151.2 L570.5 153.7 L571.2 152.7 L571.9 154.3 L572.6 152.6 L573.2 155.8 L573.9 157.8 L574.5 156.9 L575.1 158.8 L575.8 159.3 L576.4 157.1 L577.0 161.4 L577.6 161.4 L578.2 160.1 L578.7 158.7 L579.3 166.5 L579.9 164.0 L580.5 166.9 L581.1 169.1 L581.6 168.5 L582.2 171.1 L582.8 167.5 L583.3 171.8 L583.9 169.6 L584.5 174.5 L585.0 174.9 L585.6 169.1 L586.1 170.3 L586.7 171.8 L587.3 178.9 L587.8 175.2 L588.4 177.7 L588.9 175.7 L589.5 178.3 L590.0 178.1 L590.5 178.6 L591.1 181.4 L591.6 182.2 L592.2 185.7 L592.7 184.6 L593.3 187.5 L593.8 187.7 L594.3 189.6 L594.9 187.8 L595.4 184.3 L596.0 191.0 L596.5 192.7 L597.0 193.0 L597.6 191.0 L598.1 193.0 L598.6 189.6 L599.2 195.6 L599.7 194.3 L600.3 192.7 L600.8 191.6 L601.3 199.1 L601.9 201.0 L602.4 194.3 L603.0 201.1 L603.5 198.6 L604.0 197.3 L604.6 199.3 L605.1 204.1 L605.7 205.8 L606.2 199.7 L606.8 205.3 L607.3 201.4 L607.9 207.9 L608.4 205.4 L609.0 210.9 L609.5 212.6 L610.1 209.4 L610.6 214.4 L611.2 209.5 L611.7 208.4 L612.3 213.4 L612.8 210.6 L613.4 212.5 L614.0 214.7 L614.5 216.9 L615.1 214.8 L615.6 214.9 L616.2 221.1 L616.7 218.4 L617.3 223.3 L617.8 223.8 L618.4 221.3 L618.9 222.7 L619.5 224.0 L620.0 225.6 L620.6 226.2 L621.1 226.8 L621.7 228.0 L622.2 230.9 L622.8 229.0 L623.3 229.4 L623.9 232.1 L624.4 229.9 L625.0 231.2 L625.5 236.4 L626.0 234.3 L626.6 235.3 L627.1 232.7 L627.7 236.2 L628.2 238.1 L628.7 235.4 L629.2 240.1 L629.8 241.0 L630.3 238.2 L630.8 242.7 L631.3 242.5 L631.9 244.8 L632.4 243.5 L632.9 246.7 L633.4 247.7 L633.9 244.0 L634.4 245.1 L634.9 249.9 L635.4 252.6 L635.9 248.9 L636.4 251.1 L636.9 252.8 L637.4 251.9 L637.9 253.0 L638.4 253.6 L638.8 254.8 L639.3 257.1 L639.8 256.0 L640.3 257.4 L640.8 260.7 L641.3 256.8 L641.7 261.1 L642.2 263.0 L642.7 261.2 L643.2 261.4 L643.7 266.0 L644.2 263.2 L644.7 263.7 L645.2 266.2 L645.7 268.7 L646.2 265.7 L646.7 267.9 L647.3 268.8 L647.8 272.9 L648.3 271.4 L648.9 273.4 L649.4 272.3 L650.0 273.6 L650.5 275.2 L651.1 276.7 L651.7 276.3 L652.3 276.5 L652.9 277.0 L653.5 279.0 L654.1 278.8 L654.7 281.4 L655.3 282.2 L655.9 281.2 L656.5 282.3 L657.2 284.6 L657.8 284.9 L658.4 286.1 L659.1 285.6 L659.7 285.8 L660.3 287.0 L661.0 289.2 L661.6 288.5 L662.2 290.0 L662.9 290.7 L663.5 291.5 L664.2 292.3 L664.9 293.0 L665.5 293.8 L666.2 294.6 L666.8 295.3 L667.5 296.1 L668.2 296.8 L668.8 297.6 L669.5 298.3 L670.2 299.0 L670.9 299.8 L671.6 300.5 L672.2 301.2 L672.9 302.0 L673.6 302.7 L674.3 303.4 L675.0 304.1 L675.7 304.8 L676.4 305.5 L677.1 306.2 L677.8 306.9 L678.5 307.6 L679.3 308.3 L680.0 309.0 L680.7 309.7 L681.4 310.4 L682.2 311.1 L682.9 311.7 L683.6 312.4 L684.4 313.1 L685.1 313.7 L685.8 314.4 L686.6 315.0 L687.3 315.7 L688.1 316.3 L688.9 317.0 L689.6 317.6 L690.4 318.2 L691.2 318.9 L691.9 319.5 L692.7 320.1 L693.5 320.7 L694.3 321.3 L695.1 321.9 L695.8 322.5 L696.6 323.1 L697.4 323.7 L698.2 324.3 L699.0 324.9 L699.9 325.4 L700.7 326.0 L701.5 326.6 L702.3 327.1 L703.1 327.7 L704.0 328.2 L704.8 328.8 L705.6 329.3 L706.5 329.8 L707.3 330.4 L708.2 330.9 L709.0 331.4 L709.9 331.9 L710.7 332.4 L711.6 332.9 L712.5 333.4 L713.3 333.9 L714.2 334.4 L715.1 334.9 L716.0 335.3 L716.9 335.8 L717.8 336.3 L718.7 336.7 L719.6 337.2 L720.5 337.6 L721.4 338.0 L722.3 338.5 L723.2 338.9 L724.1 339.3 L725.0 339.7 L725.9 340.1 L726.9 340.5 L727.8 340.9 L728.7 341.3 L729.6 341.7 L730.6 342.0 L731.5 342.4 L732.5 342.8 L733.4 343.1 L734.3 343.5 L735.3 343.8 L736.2 344.1 L737.2 344.4 L738.1 344.8 L739.1 345.1 L740.1 345.4 L741.0 345.7 L742.0 346.0 L742.9 346.2 L743.9 346.5 L744.9 346.8 L745.8 347.0 L746.8 347.3 L747.8 347.5 L748.8 347.8 L749.7 348.0 L750.7 348.2 L751.7 348.4 L752.7 348.7 L753.6 348.9 L754.6 349.0 L755.6 349.2 L756.6 349.4 L757.6 349.6 L758.5 349.7 L759.5 349.9 L760.5 350.0 L761.5 350.2 L762.5 350.3 L763.5 350.4 L764.5 350.5 L765.4 350.6 L766.4 350.7 L767.4 350.8 L768.4 350.9 L769.4 351.0 L770.4 351.0 L771.4 351.1 L772.4 351.1 L773.3 351.2 L774.3 351.2 L775.3 351.2 L776.3 351.3 L777.3 351.3 L778.3 351.3 L779.3 351.2 L780.2 351.2 L781.2 351.2 L782.2 351.2 L783.2 351.1 L784.2 351.1 L785.2 351.0 L786.1 350.9 L787.1 350.9 L788.1 350.8 L789.1 350.7 L790.1 350.6 L791.1 350.5 L792.0 350.4 L793.0 350.3 L794.0 350.1 L795.0 350.0 L796.0 349.9 L796.9 349.7 L797.9 349.6 L798.9 349.4 L799.9 349.2 L800.8 349.1 L801.8 348.9 L802.8 348.7 L803.8 348.5 L804.7 348.3 L805.7 348.1 L806.7 347.9 L807.6 347.7 L808.6 347.4 L809.6 347.2 L810.5 347.0 L811.5 346.7 L812.5 346.5 L813.4 346.2 L814.4 346.0 L815.4 345.7 L816.3 345.4 L817.3 345.1 L818.2 344.9 L819.2 344.6 L820.2 344.3 L821.1 344.0 L822.1 343.7 L823.0 343.4 L824.0 343.0 L824.9 342.7 L825.9 342.4 L826.8 342.1 L827.8 341.7 L828.7 341.4 L829.7 341.0 L830.6 340.7 L831.6 340.3 L832.5 340.0 L833.5 339.6 L834.4 339.2 L835.4 338.9 L836.3 338.5 L837.2 338.1 L838.2 337.7 L839.1 337.3 L840.0 336.9 L841.0 336.5 L841.9 336.1 L842.8 335.7 L843.8 335.3 L844.7 334.9 L845.6 334.5 L846.5 334.1 L847.5 333.6 L848.4 333.2 L849.3 332.8 L850.2 332.3 L851.1 331.9 L852.1 331.5 L853.0 331.0 L853.9 330.6 L854.8 330.1 L855.7 329.7 L856.6 329.2 L857.5 328.7 L858.4 328.3 L859.3 327.8 L860.2 327.3 L861.1 326.9 L862.0 326.4 L862.9 325.9 L863.8 325.4 L864.7 324.9 L865.6 324.5 L866.5 324.0 L867.4 323.5 L868.3 323.0 L869.2 322.5 L870.1 322.0 L870.9 321.5 L871.8 321.0 L872.7 320.5 L873.6 320.0 L874.4 319.5 L875.3 319.0 L876.2 318.5 L877.0 318.0 L877.9 317.5 L878.8 317.0 L879.6 316.5 L880.5 315.9 L881.4 315.4 L882.2 314.9 L883.1 314.4 L883.9 313.9 L884.8 313.3 L885.6 312.8 L886.5 312.3 L887.3 311.8 L888.2 311.2 L889.0 310.7 L889.9 310.2 L890.7 309.6 L891.5 309.1 L892.4 308.6 L893.2 308.0 L894.1 307.5 L894.9 307.0 L895.7 306.4 L896.6 305.9 L897.4 305.3 L898.2 304.8 L899.0 304.3 L899.9 303.7 L900.7 303.2 L901.5 302.6 L902.3 302.1 L903.2 301.5 L904.0 301.0 L904.8 300.4 L905.6 299.9 L906.4 299.3 L907.3 298.7 L908.1 298.2 L908.9 297.6 L909.7 297.1 L910.5 296.5 L911.3 296.0 L912.1 295.4 L912.9 294.8 L913.8 294.3 L914.6 293.7 L915.4 293.1 L916.2 292.6 L917.0 292.0 L917.8 291.4 L918.6 290.9 L919.4 290.3 L920.2 289.7 L921.0 289.2 L921.8 288.6 L922.6 288.0 L923.4 287.4 L924.2 286.9 L925.0 286.3 L925.8 285.7 L926.6 285.1 L927.4 284.5 L928.2 284.0 L929.0 283.4 L929.8 282.8 L930.6 282.2 L931.4 281.6 L932.2 281.1 L933.0 280.5 L933.8 279.9 L934.6 279.3 L935.4 278.7 L936.2 278.1 L937.0 277.6 L937.8 277.0 L938.6 276.4 L939.4 275.8 L940.2 275.2 L941.0 274.6 L941.8 274.0 L942.6 273.5 L943.4 272.9 L944.2 272.3 L945.0 271.7 L945.8 271.1 L946.6 270.5 L947.4 269.9 L948.2 269.3 L949.0 268.7 L949.8 268.1 L950.6 267.5 L951.4 266.9 L952.2 266.3 L953.0 265.7 L953.8 265.2 L954.6 264.6 L955.4 264.0 L956.2 263.4 L957.0 262.8 L957.8 262.2 L958.6 261.6 L959.4 261.0 L960.2 260.4 L961.0 259.8 L961.8 259.2 L962.6 258.6 L963.4 258.0 L964.2 257.4 L965.0 256.8 L965.8 256.2 L966.6 255.6 L967.4 254.9 L968.2 254.3 L969.0 253.7 L969.8 253.1 L970.6 252.5 L971.4 251.9 L972.2 251.3 L973.0 250.7 L973.7 250.1 L974.5 249.5 L975.3 248.9 L976.1 248.3 L976.9 247.7 L977.7 247.0 L978.5 246.4 L979.3 245.8 L980.1 245.2 L980.9 244.6 L981.7 244.0 L982.5 243.4 L983.3 242.7 L984.1 242.1 L984.9 241.5 L985.7 240.9 L986.4 240.3 L987.2 239.7 L988.0 239.0 L988.8 238.4 L989.6 237.8 L990.4 237.2 L991.2 236.6 L992.0 236.0 L992.8 235.3 L993.5 234.7 L994.3 234.1 L995.1 233.5 L995.9 232.8 L996.7 232.2 L997.5 231.6 L998.3 231.0 L999.1 230.4 L999.9 229.7 L1000.6 229.1 L1001.4 228.5 L1002.2 227.9 L1003.0 227.2 L1003.8 226.6 L1004.6 226.0 L1005.4 225.4 L1006.1 224.7 L1006.9 224.1 L1007.7 223.5 L1008.5 222.9 L1009.3 222.2 L1010.1 221.6 L1010.9 221.0 L1011.6 220.4 L1012.4 219.8 L1013.2 219.1 L1014.0 218.5 L1014.8 217.9 L1015.6 217.3 L1016.4 216.6 L1017.2 216.0 L1017.9 215.4 L1018.7 214.8 L1019.5 214.1 L1020.3 213.5 L1021.1 212.9 L1021.9 212.3 L1022.7 211.7 L1023.5 211.0 L1024.2 210.4 L1025.0 209.8 L1025.8 209.2 L1026.6 208.6 L1027.4 207.9 L1028.2 207.3 L1029.0 206.7 L1029.8 206.1 L1030.6 205.5 L1031.3 204.9 L1032.1 204.2 L1032.9 203.6 L1033.7 203.0 L1034.5 202.4 L1035.3 201.8 L1036.1 201.2 L1036.9 200.6 L1037.7 200.0 L1038.5 199.3 L1039.3 198.7 L1040.1 198.1 L1040.9 197.5 L1041.7 196.9 L1042.4 196.3 L1043.2 195.7 L1044.0 195.1 L1044.8 194.5 L1045.6 193.9 L1046.4 193.3 L1047.2 192.7 L1048.0 192.1 L1048.8 191.5 L1049.6 190.9 L1050.4 190.3 L1051.2 189.7 L1052.0 189.1 L1052.8 188.5 L1053.6 187.9 L1054.5 187.3 L1055.3 186.7 L1056.1 186.1 L1056.9 185.6 L1057.7 185.0 L1058.5 184.4 L1059.3 183.8 L1060.1 183.2 L1060.9 182.6 L1061.7 182.1 L1062.5 181.5 L1063.3 180.9 L1064.2 180.3 L1065.0 179.8 L1065.8 179.2 L1066.6 178.6 L1067.4 178.0 L1068.2 177.5 L1069.1 176.9 L1069.9 176.3 L1070.7 175.8 L1071.5 175.2 L1072.3 174.6 L1073.2 174.1 L1074.0 173.5 L1074.8 173.0 L1075.6 172.4 L1076.5 171.9 L1077.3 171.3 L1078.1 170.8 L1078.9 170.2 L1079.8 169.7 L1080.6 169.1 L1081.4 168.6 L1082.3 168.0 L1083.1 167.5 L1083.9 167.0 L1084.8 166.4 L1085.6 165.9 L1086.4 165.4 L1087.3 164.8 L1088.1 164.3 L1089.0 163.8 L1089.8 163.2 L1090.7 162.7 L1091.5 162.2 L1092.4 161.7 L1093.2 161.2 L1094.0 160.6 L1094.9 160.1 L1095.7 159.6 L1096.6 159.1 L1097.5 158.6 L1098.3 158.1 L1099.2 157.6 L1100.0 157.1 L1100.9 156.6 L1101.7 156.1 L1102.6 155.6 L1103.5 155.1 L1104.3 154.6 L1105.2 154.2 L1106.1 153.7 L1106.9 153.2 L1107.8 152.7 L1108.7 152.2 L1109.5 151.8 L1110.4 151.3 L1111.3 150.8 L1112.2 150.3 L1113.0 149.9 L1113.9 149.4 L1114.8 149.0 L1115.7 148.5 L1116.6 148.0 L1117.5 147.6 L1118.3 147.1 L1119.2 146.7 L1120.1 146.3 L1121.0 145.8 L1121.9 145.4 L1122.8 144.9 L1123.7 144.5 L1124.6 144.1 L1125.5 143.6 L1126.4 143.2 L1127.3 142.8 L1128.2 142.4 L1129.1 142.0 L1130.0 141.5 L1130.9 141.1 L1131.8 140.7 L1132.8 140.3 L1133.7 139.9 L1134.6 139.5 L1135.5 139.1 L1136.4 138.7 L1137.4 138.3 L1138.3 137.9 L1139.2 137.6 L1140.1 137.2 L1141.1 136.8 L1142.0 136.4 L1142.9 136.1 L1143.9 135.7 L1144.8 135.3 L1145.7 135.0 L1146.7 134.6 L1147.6 134.2 L1148.6 133.9 L1149.5 133.5 L1150.4 133.2 L1151.4 132.8 L1152.3 132.5 L1153.3 132.2 L1154.3 131.8 L1155.2 131.5 L1156.2 131.2 L1157.1 130.9 L1158.1 130.5 L1159.1 130.2 L1160.0 129.9 L1161.0 129.6" stroke="#4472C4" stroke-width="3.3"/>
<path d="M161.3 699.6 L162.3 699.7 L163.3 699.8 L164.3 699.9 L165.3 700.0 L166.3 700.1 L167.3 700.2 L168.3 700.3 L169.3 700.4 L170.3 700.5 L171.3 700.6 L172.3 700.7 L173.3 700.7 L174.3 700.8 L175.4 700.9 L176.4 701.0 L177.4 701.1 L178.4 701.1 L179.4 701.2 L180.4 701.3 L181.4 701.3 L182.4 701.4 L183.4 701.5 L184.4 701.5 L185.4 701.6 L186.4 701.7 L187.4 701.7 L188.4 701.8 L189.4 701.8 L190.4 701.9 L191.4 701.9 L192.4 702.0 L193.4 702.0 L194.4 702.1 L195.4 702.1 L196.4 702.1 L197.4 702.2 L198.4 702.2 L199.4 702.3 L200.4 702.3 L201.4 702.3 L202.4 702.3 L203.4 702.4 L204.4 702.4 L205.4 702.4 L206.4 702.4 L207.4 702.5 L208.3 702.5 L209.3 702.5 L210.3 702.5 L211.3 702.5 L212.3 702.5 L213.3 702.5 L214.3 702.6 L215.3 702.6 L216.3 702.6 L217.3 702.6 L218.3 702.6 L219.3 702.6 L220.3 702.6 L221.3 702.6 L222.3 702.6 L223.3 702.6 L224.3 702.5 L225.3 702.5 L226.3 702.5 L227.3 702.5 L228.3 702.5 L229.3 702.5 L230.3 702.5 L231.2 702.4 L232.2 702.4 L233.2 702.4 L234.2 702.4 L235.2 702.4 L236.2 702.3 L237.2 702.3 L238.2 702.3 L239.2 702.2 L240.2 702.2 L241.2 702.2 L242.2 702.1 L243.2 702.1 L244.2 702.1 L245.2 702.0 L246.1 702.0 L247.1 701.9 L248.1 701.9 L249.1 701.8 L250.1 701.8 L251.1 701.7 L252.1 701.7 L253.1 701.6 L254.1 701.6 L255.1 701.5 L256.1 701.5 L257.1 701.4 L258.0 701.4 L259.0 701.3 L260.0 701.2 L261.0 701.2 L262.0 701.1 L263.0 701.0 L264.0 701.0 L265.0 700.9 L266.0 700.8 L267.0 700.8 L268.0 700.7 L268.9 700.6 L269.9 700.6 L270.9 700.5 L271.9 700.4 L272.9 700.3 L273.9 700.2 L274.9 700.2 L275.9 700.1 L276.9 700.0 L277.9 699.9 L278.8 699.8 L279.8 699.7 L280.8 699.7 L281.8 699.6 L282.8 699.5 L283.8 699.4 L284.8 699.3 L285.8 699.2 L286.8 699.1 L287.7 699.0 L288.7 698.9 L289.7 698.8 L290.7 698.7 L291.7 698.6 L292.7 698.5 L293.7 698.4 L294.7 698.3 L295.7 698.2 L296.6 698.1 L297.6 698.0 L298.6 697.9 L299.6 697.8 L300.6 697.7 L301.6 697.6 L302.6 697.4 L303.6 697.3 L304.5 697.2 L305.5 697.1 L306.5 697.0 L307.5 696.9 L308.5 696.8 L309.5 696.6 L310.5 696.5 L311.5 696.4 L312.4 696.3 L313.4 696.2 L314.4 696.0 L315.4 695.9 L316.4 695.8 L317.4 695.7 L318.4 695.5 L319.4 695.4 L320.3 695.3 L321.3 695.1 L322.3 695.0 L323.3 694.9 L324.3 694.8 L325.3 694.6 L326.3 694.5 L327.3 694.4 L328.2 694.2 L329.2 694.1 L330.2 694.0 L331.2 693.8 L332.2 693.7 L333.2 693.5 L334.2 693.4 L335.2 693.3 L336.1 693.1 L337.1 693.0 L338.1 692.8 L339.1 692.7 L340.1 692.5 L341.1 692.4 L342.1 692.3 L343.1 692.1 L344.0 692.0 L345.0 691.8 L346.0 691.7 L347.0 691.5 L348.0 691.4 L349.0 691.2 L350.0 691.1 L350.9 690.9 L351.9 690.8 L352.9 690.6 L353.9 690.5 L354.9 690.3 L355.9 690.2 L356.9 690.0 L357.9 689.9 L358.8 689.7 L359.8 689.5 L360.8 689.4 L361.8 689.2 L362.8 689.1 L363.8 688.9 L364.8 688.8 L365.8 688.6 L366.7 688.4 L367.7 688.3 L368.7 688.1 L369.7 688.0 L370.7 687.8 L371.7 687.6 L372.7 687.5 L373.7 687.3 L374.6 687.1 L375.6 687.0 L376.6 686.8 L377.6 686.6 L378.6 686.5 L379.6 686.3 L380.6 686.2 L381.6 686.0 L382.5 685.8 L383.5 685.7 L384.5 685.5 L385.5 685.3 L386.5 685.2 L387.5 685.0 L388.5 684.8 L389.5 684.6 L390.4 684.5 L391.4 684.3 L392.4 684.1 L393.4 684.0 L394.4 683.8 L395.4 683.6 L396.4 683.5 L397.4 683.3 L398.4 683.1 L399.3 682.9 L400.3 682.8 L401.3 682.6 L402.3 682.4 L403.3 682.3 L404.3 682.1 L405.3 681.9 L406.3 681.7 L407.3 681.6 L408.2 681.4 L409.2 681.2 L410.2 681.0 L411.2 680.9 L412.2 680.7 L413.2 680.5 L414.2 680.4 L415.2 680.2 L416.2 680.0 L417.2 679.8 L418.1 679.7 L419.1 679.5 L420.1 679.3 L421.1 679.1 L422.1 678.9 L423.1 678.8 L424.1 678.6 L425.1 678.4 L426.1 678.2 L427.0 678.1 L428.0 677.9 L429.0 677.7 L430.0 677.5 L431.0 677.3 L432.0 677.2 L433.0 677.0 L434.0 676.8 L435.0 676.6 L435.9 676.4 L436.9 676.2 L437.9 676.1 L438.9 675.9 L439.9 675.7 L440.9 675.5 L441.9 675.3 L442.9 675.1 L443.8 674.9 L444.8 674.7 L445.8 674.6 L446.8 674.4 L447.8 674.2 L448.8 674.0 L449.7 673.8 L450.7 673.6 L451.7 673.4 L452.7 673.2 L453.7 673.0 L454.7 672.8 L455.6 672.6 L456.6 672.4 L457.6 672.2 L458.6 672.0 L459.6 671.8 L460.5 671.6 L461.5 671.4 L462.5 671.1 L463.5 670.9 L464.5 670.7 L465.4 670.5 L466.4 670.3 L467.4 670.1 L468.4 669.9 L469.3 669.6 L470.3 669.4 L471.3 669.2 L472.3 669.0 L473.2 668.8 L474.2 668.5 L475.2 668.3 L476.2 668.1 L477.1 667.8 L478.1 667.6 L479.1 667.4 L480.0 667.1 L481.0 666.9 L482.0 666.7 L482.9 666.4 L483.9 666.2 L484.9 665.9 L485.8 665.7 L486.8 665.5 L487.8 665.2 L488.7 665.0 L489.7 664.7 L490.6 664.4 L491.6 664.2 L492.6 663.9 L493.5 663.7 L494.5 663.4 L495.4 663.1 L496.4 662.9 L497.3 662.6 L498.3 662.3 L499.3 662.1 L500.2 661.8 L501.2 661.5 L502.1 661.2 L503.1 661.0 L504.0 660.7 L505.0 660.4 L505.9 660.1 L506.8 659.8 L507.8 659.5 L508.7 659.2 L509.7 658.9 L510.6 658.6 L511.6 658.3 L512.5 658.0 L513.4 657.7 L514.4 657.4 L515.3 657.1 L516.3 656.8 L517.2 656.5 L518.1 656.2 L519.1 655.9 L520.0 655.5 L520.9 655.2 L521.8 654.9 L522.8 654.6 L523.7 654.2 L524.6 653.9 L525.5 653.5 L526.5 653.2 L527.4 652.9 L528.3 652.5 L529.2 652.1 L530.1 651.8 L531.1 651.4 L532.0 651.1 L532.9 650.7 L533.8 650.3 L534.7 649.9 L535.6 649.5 L536.5 649.2 L537.4 648.8 L538.3 648.4 L539.2 648.0 L540.1 647.6 L541.0 647.1 L541.9 646.7 L542.8 646.3 L543.7 645.9 L544.6 645.4 L545.5 645.0 L546.3 644.6 L547.2 644.1 L548.1 643.6 L549.0 643.2 L549.8 642.7 L550.7 642.2 L551.6 641.8 L552.4 641.3 L553.3 640.8 L554.2 640.3 L555.0 639.8 L555.9 639.3 L556.7 638.7 L557.6 638.2 L558.4 637.7 L559.3 637.1 L560.1 636.6 L561.0 636.0 L561.8 635.5 L562.6 634.9 L563.5 634.3 L564.3 633.7 L565.1 633.1 L565.9 632.5 L566.8 631.9 L567.6 631.3 L568.4 630.7 L569.2 630.1 L570.0 629.4 L570.2 627.8 L570.4 626.2 L570.6 624.6 L570.8 623.0 L571.0 621.4 L571.2 619.8 L571.4 618.1 L571.6 616.5 L571.8 614.9 L572.4 613.4 L573.0 611.8 L571.5 610.2 L571.2 611.8 L572.0 613.3 L571.6 614.9 L574.6 616.1 L573.3 617.8 L572.0 619.5 L573.1 620.9 L572.5 622.5 L575.1 623.8 L574.2 625.5 L575.0 626.9 L574.3 628.6 L574.3 630.1 L576.3 631.5 L575.8 633.1 L575.8 634.6 L573.9 636.4 L574.6 637.9 L576.6 639.2 L574.8 641.0 L574.7 642.3 L576.4 640.8 L574.9 639.2 L574.6 637.6 L577.5 636.1 L575.5 634.4 L575.6 632.9 L578.1 631.4 L577.9 629.8 L576.1 628.1 L578.4 626.7 L577.1 625.0 L577.7 623.4 L576.3 621.7 L578.7 620.2 L578.0 618.5 L579.0 616.9 L578.9 615.3 L577.1 613.6 L577.4 611.9 L576.8 610.3 L579.1 608.6 L579.5 610.1 L578.9 611.7 L578.0 613.3 L580.1 614.7 L578.1 616.4 L579.3 617.8 L579.5 619.3 L578.0 621.0 L579.2 622.4 L579.8 623.9 L579.4 625.5 L580.1 627.1 L578.3 625.3 L581.4 624.2 L578.5 622.3 L581.0 621.1 L581.5 619.6 L579.1 617.8 L581.7 616.6 L580.7 614.7 L582.5 614.1 L582.2 612.6 L582.6 611.0 L583.4 609.5 L586.2 608.5 L584.2 606.4 L586.3 605.2 L587.1 603.8 L587.5 602.3 L585.9 600.5 L586.2 599.0 L587.0 597.6 L586.3 596.2 L588.6 597.6 L586.8 599.4 L586.8 601.0 L586.8 602.6 L589.6 603.9 L586.9 605.9 L588.0 606.1 L590.1 606.1 L592.4 606.0 L593.9 605.0 L592.7 602.9 L595.0 602.2 L594.5 600.4 L594.3 598.8 L594.5 597.3 L594.2 595.8 L594.0 594.2 L594.4 592.7 L596.3 591.4 L597.4 590.0 L595.0 588.2 L594.8 586.7 L597.9 585.5 L596.6 583.8 L596.4 582.3 L596.0 580.7 L596.7 579.4 L596.3 581.2 L597.7 582.8 L598.1 584.5 L599.6 586.0 L599.6 588.7 L598.2 585.6 L600.5 584.9 L602.0 583.6 L600.4 581.3 L602.7 580.3 L603.9 578.9 L603.4 577.0 L604.4 575.6 L605.2 573.3 L604.7 575.4 L606.1 576.9 L604.5 579.3 L605.4 580.6 L606.1 579.1 L608.0 577.7 L607.7 576.1 L608.2 574.6 L606.7 572.9 L607.0 571.3 L607.9 569.8 L607.3 568.2 L606.9 566.4 L607.6 564.8 L607.2 563.0 L608.4 561.5 L610.7 560.3 L608.7 559.3 L611.1 559.9 L613.1 561.0 L612.9 559.3 L612.5 557.6 L613.4 556.1 L615.4 554.9 L616.0 553.4 L614.8 551.5 L616.4 550.2 L616.7 548.7 L617.0 546.9 L617.5 545.2 L618.4 543.6 L617.7 541.5 L619.3 540.1 L618.2 538.9 L619.1 538.0 L620.2 537.2 L620.2 536.2 L619.2 534.9 L621.4 534.4 L620.7 533.2 L620.7 532.2 L619.2 530.8 L621.1 530.2 L620.4 529.0 L621.9 528.3 L621.5 527.2 L622.8 526.5 L622.5 525.4 L623.2 524.5 L622.0 523.2 L623.1 522.4 L623.6 521.5 L624.1 520.6 L622.8 519.3 L624.6 518.7 L624.9 517.7 L624.5 516.6 L625.7 515.8 L625.8 514.9 L624.7 513.6 L624.9 512.6 L624.4 511.5 L625.9 510.8 L626.3 509.9 L625.6 508.7 L626.3 507.8 L626.5 506.9 L626.8 505.9 L625.9 504.7 L627.3 504.0 L627.1 502.9 L627.5 502.0 L627.3 500.9 L627.9 500.1 L628.4 499.2 L628.3 498.1 L628.7 497.2 L627.6 495.9 L628.1 495.0 L628.8 494.2 L629.5 493.3 L628.8 492.2 L630.0 491.4 L630.1 490.4 L629.2 489.2 L630.2 488.4 L630.0 487.3 L629.9 486.3 L630.2 485.4 L630.8 484.5 L630.8 483.5 L631.0 482.5 L631.0 481.5 L632.0 480.7 L632.1 479.7 L632.8 478.9 L633.0 477.9 L632.5 476.8 L634.1 476.1 L632.5 474.7 L633.6 473.9 L633.6 472.9 L634.1 472.0 L633.7 470.9 L635.4 470.3 L634.7 469.1 L634.3 468.0 L635.7 467.3 L634.9 466.1 L636.1 465.4 L635.9 464.3 L636.6 463.4 L637.6 462.7 L637.6 461.6 L637.1 460.5 L638.1 459.7 L638.0 458.7 L637.8 457.6 L637.6 456.5 L638.8 455.8 L639.0 454.8 L640.0 454.0 L640.3 453.1 L639.9 451.9 L639.7 450.8 L641.0 450.1 L639.6 448.7 L640.0 447.8 L641.2 447.1 L641.6 446.1 L641.0 444.9 L642.2 444.2 L643.0 443.4 L642.3 442.1 L642.7 441.2 L642.6 440.1 L643.1 439.2 L644.7 438.6 L643.8 437.3 L645.3 436.7 L645.5 435.7 L645.2 434.5 L644.9 433.3 L646.6 432.8 L646.0 431.5 L646.2 430.5 L646.3 429.5 L647.9 429.0 L647.3 427.7 L647.3 426.6 L648.0 425.8 L647.7 424.6 L649.0 424.0 L649.0 422.9 L649.1 421.8 L650.4 421.2 L650.9 420.3 L649.7 418.8 L651.1 418.2 L651.0 417.1 L652.6 416.7 L652.8 415.6 L652.2 414.3 L652.6 413.4 L652.9 412.3 L654.8 412.1 L654.0 410.6 L655.0 410.0 L655.2 409.0 L656.0 408.2 L656.3 407.3 L657.1 406.5 L656.4 405.1 L658.0 404.8 L657.7 403.5 L658.6 402.8 L658.8 401.7 L659.2 400.8 L660.1 400.2 L660.6 399.3 L661.2 398.5 L661.7 397.7 L662.3 396.8 L662.8 396.0 L663.4 395.2 L663.9 394.4 L664.5 393.6 L665.1 392.8 L665.7 392.0 L666.3 391.2 L666.9 390.4 L667.5 389.6 L668.1 388.9 L668.7 388.1 L669.4 387.4 L670.0 386.6 L670.7 385.9 L671.3 385.2 L672.0 384.5 L672.7 383.7 L673.3 383.0 L674.0 382.4 L674.7 381.7 L675.4 381.0 L676.1 380.4 L676.9 379.7 L677.6 379.1 L678.3 378.4 L679.1 377.8 L679.8 377.2 L680.6 376.6 L681.3 376.0 L682.1 375.4 L682.9 374.9 L683.7 374.3 L684.5 373.8 L685.3 373.2 L686.1 372.7 L686.9 372.2 L687.7 371.6 L688.6 371.1 L689.4 370.6 L690.2 370.2 L691.1 369.7 L691.9 369.2 L692.8 368.8 L693.7 368.3 L694.5 367.9 L695.4 367.4 L696.3 367.0 L697.2 366.6 L698.1 366.2 L699.0 365.8 L699.9 365.4 L700.8 365.0 L701.7 364.6 L702.6 364.2 L703.5 363.8 L704.4 363.5 L705.4 363.1 L706.3 362.8 L707.2 362.4 L708.2 362.1 L709.1 361.8 L710.1 361.4 L711.0 361.1 L712.0 360.8 L712.9 360.5 L713.9 360.2 L714.8 359.9 L715.8 359.6 L716.8 359.3 L717.7 359.1 L718.7 358.8 L719.7 358.5 L720.6 358.3 L721.6 358.0 L722.6 357.7 L723.6 357.5 L724.5 357.2 L725.5 357.0 L726.5 356.8 L727.5 356.5 L728.5 356.3 L729.4 356.1 L730.4 355.9 L731.4 355.6 L732.4 355.4 L733.4 355.2 L734.4 355.0 L735.3 354.8 L736.3 354.6 L737.3 354.4 L738.3 354.2 L739.3 354.0 L740.3 353.8 L741.2 353.6 L742.2 353.4 L743.2 353.2 L744.2 353.0 L745.2 352.9 L746.2 352.7 L747.1 352.5 L748.1 352.3 L749.1 352.2 L750.1 352.0 L751.1 351.8 L752.1 351.6 L753.1 351.5 L754.0 351.3 L755.0 351.2 L756.0 351.0 L757.0 350.8 L758.0 350.7 L759.0 350.5 L760.0 350.4 L761.0 350.2 L761.9 350.0 L762.9 349.9 L763.9 349.7 L764.9 349.6 L765.9 349.4 L766.9 349.3 L767.9 349.1 L768.8 349.0 L769.8 348.8 L770.8 348.7 L771.8 348.5 L772.8 348.3 L773.8 348.2 L774.8 348.0 L775.8 347.9 L776.7 347.7 L777.7 347.6 L778.7 347.4 L779.7 347.3 L780.7 347.1 L781.7 346.9 L782.7 346.8 L783.7 346.6 L784.6 346.5 L785.6 346.3 L786.6 346.1 L787.6 346.0 L788.6 345.8 L789.6 345.7 L790.6 345.5 L791.6 345.3 L792.5 345.2 L793.5 345.0 L794.5 344.8 L795.5 344.7 L796.5 344.5 L797.5 344.3 L798.5 344.1 L799.5 344.0 L800.4 343.8 L801.4 343.6 L802.4 343.5 L803.4 343.3 L804.4 343.1 L805.4 343.0 L806.4 342.8 L807.4 342.6 L808.3 342.4 L809.3 342.3 L810.3 342.1 L811.3 341.9 L812.3 341.8 L813.3 341.6 L814.3 341.4 L815.3 341.2 L816.2 341.1 L817.2 340.9 L818.2 340.7 L819.2 340.5 L820.2 340.4 L821.2 340.2 L822.2 340.0 L823.2 339.9 L824.2 339.7 L825.1 339.5 L826.1 339.4 L827.1 339.2 L828.1 339.0 L829.1 338.8 L830.1 338.7 L831.1 338.5 L832.1 338.3 L833.0 338.2 L834.0 338.0 L835.0 337.8 L836.0 337.7 L837.0 337.5 L838.0 337.3 L839.0 337.2 L840.0 337.0 L840.9 336.9 L841.9 336.7 L842.9 336.5 L843.9 336.4 L844.9 336.2 L845.9 336.1 L846.9 335.9 L847.9 335.7 L848.9 335.6 L849.8 335.4 L850.8 335.3 L851.8 335.1 L852.8 335.0 L853.8 334.8 L854.8 334.7 L855.8 334.5 L856.8 334.4 L857.7 334.2 L858.7 334.1 L859.7 333.9 L860.7 333.8 L861.7 333.6 L862.7 333.5 L863.7 333.3 L864.7 333.2 L865.6 333.0 L866.6 332.9 L867.6 332.8 L868.6 332.6 L869.6 332.5 L870.6 332.3 L871.6 332.2 L872.6 332.1 L873.6 331.9 L874.5 331.8 L875.5 331.6 L876.5 331.5 L877.5 331.4 L878.5 331.2 L879.5 331.1 L880.5 330.9 L881.5 330.8 L882.4 330.7 L883.4 330.5 L884.4 330.4 L885.4 330.3 L886.4 330.1 L887.4 330.0 L888.4 329.9 L889.4 329.7 L890.4 329.6 L891.3 329.5 L892.3 329.3 L893.3 329.2 L894.3 329.1 L895.3 328.9 L896.3 328.8 L897.3 328.7 L898.3 328.5 L899.3 328.4 L900.2 328.3 L901.2 328.2 L902.2 328.0 L903.2 327.9 L904.2 327.8 L905.2 327.6 L906.2 327.5 L907.2 327.4 L908.1 327.3 L909.1 327.1 L910.1 327.0 L911.1 326.9 L912.1 326.8 L913.1 326.6 L914.1 326.5 L915.1 326.4 L916.1 326.2 L917.0 326.1 L918.0 326.0 L919.0 325.9 L920.0 325.7 L921.0 325.6 L922.0 325.5 L923.0 325.4 L924.0 325.2 L924.9 325.1 L925.9 325.0 L926.9 324.9 L927.9 324.7 L928.9 324.6 L929.9 324.5 L930.9 324.4 L931.9 324.2 L932.9 324.1 L933.8 324.0 L934.8 323.9 L935.8 323.7 L936.8 323.6 L937.8 323.5 L938.8 323.3 L939.8 323.2 L940.8 323.1 L941.8 323.0 L942.7 322.8 L943.7 322.7 L944.7 322.6 L945.7 322.5 L946.7 322.3 L947.7 322.2 L948.7 322.1 L949.7 322.0 L950.6 321.8 L951.6 321.7 L952.6 321.6 L953.6 321.4 L954.6 321.3 L955.6 321.2 L956.6 321.1 L957.6 320.9 L958.6 320.8 L959.5 320.7 L960.5 320.5 L961.5 320.4 L962.5 320.3 L963.5 320.2 L964.5 320.0 L965.5 319.9 L966.5 319.8 L967.4 319.6 L968.4 319.5 L969.4 319.4 L970.4 319.2 L971.4 319.1 L972.4 319.0 L973.4 318.8 L974.4 318.7 L975.4 318.6 L976.3 318.4 L977.3 318.3 L978.3 318.2 L979.3 318.1 L980.3 317.9 L981.3 317.8 L982.3 317.7 L983.3 317.5 L984.2 317.4 L985.2 317.3 L986.2 317.1 L987.2 317.0 L988.2 316.9 L989.2 316.7 L990.2 316.6 L991.2 316.5 L992.2 316.3 L993.1 316.2 L994.1 316.1 L995.1 315.9 L996.1 315.8 L997.1 315.7 L998.1 315.5 L999.1 315.4 L1000.1 315.3 L1001.0 315.1 L1002.0 315.0 L1003.0 314.9 L1004.0 314.7 L1005.0 314.6 L1006.0 314.4 L1007.0 314.3 L1008.0 314.2 L1009.0 314.0 L1009.9 313.9 L1010.9 313.8 L1011.9 313.6 L1012.9 313.5 L1013.9 313.4 L1014.9 313.2 L1015.9 313.1 L1016.9 313.0 L1017.8 312.8 L1018.8 312.7 L1019.8 312.6 L1020.8 312.4 L1021.8 312.3 L1022.8 312.2 L1023.8 312.0 L1024.8 311.9 L1025.8 311.8 L1026.7 311.6 L1027.7 311.5 L1028.7 311.4 L1029.7 311.2 L1030.7 311.1 L1031.7 310.9 L1032.7 310.8 L1033.7 310.7 L1034.6 310.5 L1035.6 310.4 L1036.6 310.3 L1037.6 310.1 L1038.6 310.0 L1039.6 309.8 L1040.6 309.7 L1041.6 309.6 L1042.5 309.4 L1043.5 309.3 L1044.5 309.1 L1045.5 309.0 L1046.5 308.8 L1047.5 308.7 L1048.5 308.5 L1049.5 308.4 L1050.4 308.3 L1051.4 308.1 L1052.4 308.0 L1053.4 307.8 L1054.4 307.7 L1055.4 307.5 L1056.4 307.3 L1057.4 307.2 L1058.4 307.0 L1059.3 306.9 L1060.3 306.7 L1061.3 306.6 L1062.3 306.4 L1063.3 306.3 L1064.3 306.1 L1065.3 305.9 L1066.3 305.8 L1067.2 305.6 L1068.2 305.4 L1069.2 305.3 L1070.2 305.1 L1071.2 304.9 L1072.2 304.8 L1073.2 304.6 L1074.2 304.4 L1075.1 304.2 L1076.1 304.1 L1077.1 303.9 L1078.1 303.7 L1079.1 303.5 L1080.1 303.4 L1081.1 303.2 L1082.1 303.0 L1083.0 302.8 L1084.0 302.6 L1085.0 302.4 L1086.0 302.2 L1087.0 302.1 L1088.0 301.9 L1089.0 301.7 L1090.0 301.5 L1090.9 301.3 L1091.9 301.1 L1092.9 300.9 L1093.9 300.7 L1094.9 300.5 L1095.9 300.3 L1096.9 300.1 L1097.8 299.9 L1098.8 299.7 L1099.8 299.5 L1100.8 299.4 L1101.8 299.2 L1102.8 299.0 L1103.8 298.8 L1104.8 298.6 L1105.7 298.4 L1106.7 298.2 L1107.7 298.0 L1108.7 297.8 L1109.7 297.6 L1110.7 297.4 L1111.7 297.3 L1112.7 297.1 L1113.6 296.9 L1114.6 296.7 L1115.6 296.5 L1116.6 296.3 L1117.6 296.2 L1118.6 296.0 L1119.6 295.8 L1120.6 295.6 L1121.5 295.5 L1122.5 295.3 L1123.5 295.1 L1124.5 295.0 L1125.5 294.8 L1126.5 294.6 L1127.5 294.5 L1128.4 294.3 L1129.4 294.2 L1130.4 294.0 L1131.4 293.9 L1132.4 293.7 L1133.4 293.6 L1134.4 293.4 L1135.4 293.3 L1136.3 293.2 L1137.3 293.0 L1138.3 292.9 L1139.3 292.8 L1140.3 292.7 L1141.3 292.6 L1142.3 292.5 L1143.2 292.3 L1144.2 292.2 L1145.2 292.1 L1146.2 292.0 L1147.2 291.9 L1148.2 291.9 L1149.2 291.8 L1150.1 291.7 L1151.1 291.6 L1152.1 291.5 L1153.1 291.5 L1154.1 291.4 L1155.1 291.3 L1156.1 291.3 L1157.1 291.2 L1158.0 291.2 L1159.0 291.2 L1160.0 291.1 L1161.0 291.1" stroke="#000" stroke-width="3.5"/>
<path d="M161.3 708.7 L162.3 708.8 L163.3 708.8 L164.4 708.9 L165.4 708.9 L166.4 709.0 L167.4 709.0 L168.5 709.0 L169.5 709.1 L170.5 709.1 L171.5 709.2 L172.6 709.2 L173.6 709.2 L174.6 709.2 L175.6 709.3 L176.6 709.3 L177.6 709.3 L178.7 709.3 L179.7 709.3 L180.7 709.3 L181.7 709.4 L182.7 709.4 L183.7 709.4 L184.7 709.4 L185.7 709.4 L186.8 709.3 L187.8 709.3 L188.8 709.3 L189.8 709.3 L190.8 709.3 L191.8 709.3 L192.8 709.2 L193.8 709.2 L194.8 709.2 L195.8 709.1 L196.8 709.1 L197.8 709.1 L198.8 709.0 L199.8 709.0 L200.8 708.9 L201.8 708.9 L202.8 708.8 L203.8 708.8 L204.8 708.7 L205.8 708.6 L206.8 708.6 L207.8 708.5 L208.8 708.4 L209.8 708.3 L210.8 708.2 L211.8 708.2 L212.7 708.1 L213.7 708.0 L214.7 707.9 L215.7 707.8 L216.7 707.7 L217.7 707.6 L218.7 707.5 L219.7 707.4 L220.6 707.2 L221.6 707.1 L222.6 707.0 L223.6 706.9 L224.6 706.7 L225.6 706.6 L226.5 706.5 L227.5 706.3 L228.5 706.2 L229.5 706.1 L230.4 705.9 L231.4 705.7 L232.4 705.6 L233.4 705.4 L234.3 705.3 L235.3 705.1 L236.3 704.9 L237.3 704.8 L238.2 704.6 L239.2 704.4 L240.2 704.2 L241.1 704.0 L242.1 703.8 L243.1 703.6 L244.0 703.4 L245.0 703.2 L246.0 703.0 L246.9 702.8 L247.9 702.6 L248.9 702.4 L249.8 702.2 L250.8 701.9 L251.7 701.7 L252.7 701.5 L253.7 701.2 L254.6 701.0 L255.6 700.7 L256.5 700.5 L257.5 700.2 L258.4 700.0 L259.4 699.7 L260.3 699.5 L261.3 699.2 L262.2 698.9 L263.2 698.6 L264.1 698.4 L265.1 698.1 L266.0 697.8 L267.0 697.5 L267.9 697.2 L268.9 696.9 L269.8 696.6 L270.8 696.3 L271.7 696.0 L272.7 695.7 L273.6 695.4 L274.5 695.1 L275.5 694.8 L276.4 694.5 L277.3 694.1 L278.3 693.8 L279.2 693.5 L280.2 693.1 L281.1 692.8 L282.0 692.5 L283.0 692.1 L283.9 691.8 L284.8 691.4 L285.8 691.1 L286.7 690.7 L287.6 690.4 L288.5 690.0 L289.5 689.7 L290.4 689.3 L291.3 688.9 L292.2 688.6 L293.2 688.2 L294.1 687.8 L295.0 687.5 L295.9 687.1 L296.9 686.7 L297.8 686.3 L298.7 685.9 L299.6 685.5 L300.5 685.2 L301.4 684.8 L302.4 684.4 L303.3 684.0 L304.2 683.6 L305.1 683.2 L306.0 682.8 L306.9 682.4 L307.8 682.0 L308.7 681.6 L309.7 681.1 L310.6 680.7 L311.5 680.3 L312.4 679.9 L313.3 679.5 L314.2 679.1 L315.1 678.6 L316.0 678.2 L316.9 677.8 L317.8 677.4 L318.7 676.9 L319.6 676.5 L320.5 676.1 L321.4 675.7 L322.3 675.2 L323.2 674.8 L324.1 674.4 L325.0 673.9 L325.9 673.5 L326.8 673.0 L327.7 672.6 L328.6 672.2 L329.5 671.7 L330.4 671.3 L331.3 670.8 L332.2 670.4 L333.1 669.9 L334.0 669.5 L334.9 669.0 L335.8 668.6 L336.7 668.1 L337.6 667.7 L338.5 667.2 L339.3 666.8 L340.2 666.3 L341.1 665.8 L342.0 665.4 L342.9 664.9 L343.8 664.5 L344.7 664.0 L345.6 663.6 L346.5 663.1 L347.4 662.6 L348.3 662.2 L349.2 661.7 L350.0 661.3 L350.9 660.8 L351.8 660.3 L352.7 659.9 L353.6 659.4 L354.5 658.9 L355.4 658.5 L356.3 658.0 L357.2 657.6 L358.1 657.1 L359.0 656.6 L359.8 656.2 L360.7 655.7 L361.6 655.2 L362.5 654.8 L363.4 654.3 L364.3 653.9 L365.2 653.4 L366.1 652.9 L367.0 652.5 L367.9 652.0 L368.8 651.5 L369.7 651.1 L370.5 650.6 L371.4 650.2 L372.3 649.7 L373.2 649.2 L374.1 648.8 L375.0 648.3 L375.9 647.9 L376.8 647.4 L377.7 647.0 L378.6 646.5 L379.5 646.1 L380.4 645.6 L381.3 645.1 L382.2 644.7 L383.1 644.2 L384.0 643.8 L384.9 643.3 L385.8 642.9 L386.7 642.4 L387.6 642.0 L388.5 641.6 L389.4 641.1 L390.3 640.7 L391.2 640.2 L392.1 639.8 L393.0 639.3 L393.9 638.9 L394.8 638.5 L395.7 638.0 L396.6 637.6 L397.5 637.2 L398.4 636.7 L399.3 636.3 L400.2 635.9 L401.1 635.5 L402.0 635.0 L402.9 634.6 L403.8 634.2 L404.8 633.8 L405.7 633.3 L406.6 632.9 L407.5 632.5 L408.4 632.1 L409.3 631.7 L410.2 631.3 L411.1 630.8 L412.0 630.4 L413.0 630.0 L413.9 629.6 L414.8 629.2 L415.7 628.8 L416.6 628.4 L417.5 628.0 L418.4 627.6 L419.4 627.2 L420.3 626.7 L421.2 626.3 L422.1 625.9 L423.0 625.5 L423.9 625.1 L424.9 624.7 L425.8 624.3 L426.7 623.9 L427.6 623.5 L428.5 623.1 L429.4 622.7 L430.4 622.3 L431.3 621.9 L432.2 621.5 L433.1 621.1 L434.0 620.7 L435.0 620.3 L435.9 619.9 L436.8 619.5 L437.7 619.1 L438.6 618.7 L439.5 618.3 L440.5 617.9 L441.4 617.5 L442.3 617.1 L443.2 616.7 L444.1 616.3 L445.0 615.9 L446.0 615.5 L446.9 615.1 L447.8 614.7 L448.7 614.3 L449.6 613.9 L450.5 613.5 L451.5 613.1 L452.4 612.7 L453.3 612.3 L454.2 611.9 L455.1 611.5 L456.0 611.1 L456.9 610.7 L457.9 610.3 L458.8 609.9 L459.7 609.5 L460.6 609.1 L461.5 608.7 L462.4 608.3 L463.3 607.9 L464.2 607.5 L465.2 607.1 L466.1 606.7 L467.0 606.3 L467.9 605.9 L468.8 605.5 L469.7 605.0 L470.6 604.6 L471.5 604.2 L472.4 603.8 L473.3 603.4 L474.2 603.0 L475.1 602.6 L476.0 602.1 L476.9 601.7 L477.8 601.3 L478.7 600.9 L479.6 600.5 L480.5 600.0 L481.4 599.6 L482.3 599.2 L483.2 598.7 L484.1 598.3 L485.0 597.9 L485.9 597.5 L486.8 597.0 L487.7 596.6 L488.6 596.2 L489.5 595.7 L490.4 595.3 L491.3 594.8 L492.2 594.4 L493.1 593.9 L494.0 593.5 L494.8 593.1 L495.7 592.6 L496.6 592.2 L497.5 591.7 L498.4 591.2 L499.3 590.8 L500.2 590.3 L501.0 589.9 L501.9 589.4 L502.8 588.9 L503.7 588.5 L504.5 588.0 L505.4 587.5 L506.3 587.1 L507.1 586.6 L508.0 586.1 L508.9 585.6 L509.7 585.1 L510.6 584.6 L511.5 584.2 L512.3 583.7 L513.2 583.2 L514.0 582.7 L514.9 582.2 L515.7 581.7 L516.6 581.2 L517.4 580.6 L518.3 580.1 L519.1 579.6 L520.0 579.1 L520.8 578.6 L521.6 578.0 L522.5 577.5 L523.3 577.0 L524.1 576.4 L524.9 575.9 L525.8 575.4 L526.6 574.8 L527.4 574.3 L528.2 573.7 L529.0 573.1 L529.8 572.6 L530.6 572.0 L531.4 571.5 L532.2 570.9 L533.0 570.3 L533.8 569.7 L534.6 569.1 L535.4 568.5 L536.2 567.9 L537.0 567.3 L537.8 566.7 L538.5 566.1 L539.3 565.5 L540.1 564.9 L540.8 564.3 L541.6 563.7 L542.4 563.0 L543.1 562.4 L543.9 561.8 L544.6 561.1 L545.4 560.5 L546.1 559.8 L546.8 559.1 L547.6 558.5 L548.3 557.8 L549.0 557.1 L549.7 556.5 L550.5 555.8 L551.2 555.1 L551.9 554.4 L552.6 553.7 L553.3 553.0 L554.0 552.3 L554.7 551.6 L555.4 550.8 L556.0 550.1 L556.7 549.4 L557.4 548.6 L558.1 547.9 L558.7 547.1 L559.4 546.4 L560.0 545.6 L560.7 544.8 L561.3 544.1 L562.0 543.3 L562.6 542.5 L563.3 541.7 L563.9 540.9 L564.5 540.1 L565.1 539.3 L565.7 538.5 L566.3 537.6 L566.9 536.8 L567.5 536.0 L568.1 535.1 L568.7 534.3 L569.3 533.4 L569.9 532.5 L570.5 531.7 L571.0 530.8 L571.2 529.3 L571.3 527.7 L571.4 526.2 L571.6 524.6 L571.7 523.1 L571.8 521.6 L572.0 520.0 L572.1 518.5 L572.3 516.9 L572.4 515.4 L572.8 516.9 L573.5 518.3 L574.3 519.7 L573.4 521.5 L575.2 522.6 L574.4 524.4 L575.2 525.8 L576.3 527.1 L575.5 528.9 L577.1 530.1 L576.4 531.9 L577.7 533.1 L578.0 534.7 L577.1 536.4 L578.3 535.0 L576.7 533.2 L577.1 531.8 L578.4 530.4 L579.4 529.0 L578.6 527.3 L578.3 525.8 L580.0 524.4 L577.8 522.6 L580.1 521.3 L578.8 519.7 L578.6 518.0 L578.9 516.4 L579.8 514.9 L581.5 513.6 L580.3 511.6 L581.7 510.3 L582.3 508.7 L582.0 507.0 L582.6 505.4 L581.5 503.7 L581.7 502.1 L582.2 500.6 L583.6 499.1 L583.2 497.5 L583.0 495.8 L583.9 494.4 L584.2 492.9 L584.4 491.3 L586.2 490.4 L586.6 488.9 L586.1 487.0 L587.5 486.0 L588.0 484.5 L589.3 482.9 L589.4 480.9 L588.8 478.7 L591.0 478.0 L589.6 475.7 L590.9 474.6 L592.3 473.6 L591.5 471.5 L592.9 470.5 L592.4 468.6 L594.6 467.9 L595.5 466.6 L595.8 465.0 L597.2 463.9 L596.6 461.9 L598.2 460.8 L598.4 459.1 L598.7 457.4 L598.8 455.6 L600.2 454.2 L600.9 452.7 L600.3 450.9 L601.3 449.6 L600.4 447.6 L602.5 446.8 L603.0 445.3 L604.3 443.8 L604.3 442.0 L603.3 440.0 L604.0 438.4 L605.1 436.9 L604.0 434.6 L605.5 433.0 L605.3 430.9 L605.7 429.2 L606.1 427.5 L608.4 426.4 L607.4 424.2 L608.3 422.6 L609.1 421.1 L610.8 419.9 L609.2 417.8 L610.4 416.5 L610.9 415.0 L611.9 413.7 L612.0 412.2 L612.3 410.7 L611.0 409.0 L611.6 407.5 L611.7 406.0 L613.2 404.7 L613.6 403.3 L611.8 401.5 L612.1 399.8 L612.7 398.3 L613.3 396.8 L614.4 395.4 L615.2 394.0 L614.9 392.1 L614.7 390.4 L616.3 389.1 L616.7 387.5 L617.7 386.1 L619.1 385.0 L618.8 383.3 L618.9 381.7 L619.5 380.3 L620.1 378.9 L619.0 377.0 L621.6 376.2 L621.7 374.5 L622.3 372.9 L622.4 371.2 L621.8 369.3 L622.1 367.7 L621.7 365.8 L623.4 364.4 L622.3 362.5 L622.6 360.8 L623.3 359.2 L623.5 357.5 L624.3 355.9 L623.9 354.1 L624.1 352.4 L624.9 350.7 L625.3 349.1 L626.5 347.8 L626.3 345.9 L628.9 345.1 L628.9 343.4 L628.3 341.4 L629.2 340.0 L630.0 338.6 L630.6 337.1 L630.6 335.4 L632.9 334.7 L633.9 333.4 L633.2 331.4 L633.9 330.0 L633.0 328.8 L633.3 327.8 L634.1 327.0 L634.1 325.9 L635.8 325.3 L634.3 323.9 L634.2 322.8 L636.8 322.4 L636.0 321.2 L635.7 320.1 L636.5 319.3 L636.0 318.1 L637.0 317.3 L637.8 316.5 L637.9 315.5 L638.0 314.5 L637.7 313.4 L638.1 312.5 L638.1 311.4 L639.2 310.7 L639.2 309.7 L639.8 308.8 L639.5 307.7 L639.7 306.7 L640.8 306.0 L641.3 305.1 L641.4 304.1 L641.7 303.1 L642.0 302.2 L642.2 301.2 L641.9 300.1 L642.6 299.3 L642.7 298.3 L642.6 297.2 L642.9 296.2 L643.6 295.4 L643.9 294.5 L644.8 293.8 L645.5 293.0 L645.2 291.8 L646.2 291.1 L646.6 290.3 L646.9 289.3 L646.5 288.1 L646.7 287.1 L647.1 286.2 L647.4 285.3 L647.8 284.4 L648.8 283.7 L649.5 283.0 L649.9 282.0 L649.8 280.9 L650.4 280.1 L651.1 279.3 L650.6 278.0 L651.8 277.5 L652.5 276.7 L652.8 275.8 L653.2 274.9 L653.4 273.8 L653.5 272.7 L654.7 272.3 L654.6 271.1 L655.7 270.5 L656.4 269.8 L656.3 268.5 L656.8 267.7 L658.0 267.2 L658.3 266.2 L658.2 264.9 L658.7 264.0 L659.3 263.2 L660.7 263.0 L661.2 262.1 L661.1 260.7 L662.5 260.5 L663.3 259.8 L663.6 258.7 L663.9 257.7 L664.8 257.1 L665.4 256.3 L666.1 255.5 L666.8 254.8 L667.5 254.1 L668.3 253.4 L669.0 252.7 L669.8 252.0 L670.6 251.3 L671.4 250.7 L672.2 250.0 L673.0 249.4 L673.8 248.8 L674.7 248.2 L675.5 247.7 L676.4 247.1 L677.3 246.6 L678.2 246.1 L679.1 245.6 L680.0 245.2 L680.9 244.7 L681.8 244.3 L682.8 243.9 L683.7 243.5 L684.7 243.2 L685.6 242.9 L686.6 242.6 L687.5 242.3 L688.5 242.1 L689.4 241.9 L690.4 241.7 L691.4 241.5 L692.3 241.4 L693.3 241.3 L694.2 241.2 L695.2 241.2 L696.2 241.2 L697.1 241.2 L698.0 241.3 L699.0 241.3 L699.9 241.4 L700.9 241.6 L701.8 241.7 L702.7 241.9 L703.7 242.1 L704.6 242.3 L705.5 242.5 L706.4 242.8 L707.3 243.1 L708.3 243.4 L709.2 243.7 L710.1 244.0 L711.0 244.3 L711.9 244.7 L712.8 245.0 L713.7 245.4 L714.6 245.8 L715.5 246.2 L716.4 246.6 L717.3 247.0 L718.2 247.4 L719.1 247.9 L720.0 248.3 L720.8 248.7 L721.7 249.2 L722.6 249.6 L723.5 250.1 L724.4 250.6 L725.2 251.1 L726.1 251.5 L727.0 252.0 L727.9 252.5 L728.7 253.0 L729.6 253.5 L730.5 254.0 L731.3 254.5 L732.2 255.0 L733.1 255.6 L733.9 256.1 L734.8 256.6 L735.7 257.1 L736.5 257.7 L737.4 258.2 L738.2 258.7 L739.1 259.2 L739.9 259.8 L740.8 260.3 L741.6 260.8 L742.5 261.4 L743.3 261.9 L744.2 262.4 L745.0 263.0 L745.9 263.5 L746.7 264.1 L747.6 264.6 L748.4 265.1 L749.3 265.7 L750.1 266.2 L751.0 266.8 L751.8 267.3 L752.7 267.9 L753.5 268.4 L754.4 268.9 L755.2 269.5 L756.0 270.0 L756.9 270.6 L757.7 271.1 L758.6 271.7 L759.4 272.2 L760.3 272.8 L761.1 273.3 L761.9 273.8 L762.8 274.4 L763.6 274.9 L764.5 275.5 L765.3 276.0 L766.2 276.6 L767.0 277.1 L767.9 277.6 L768.7 278.2 L769.5 278.7 L770.4 279.2 L771.2 279.8 L772.1 280.3 L772.9 280.8 L773.8 281.4 L774.6 281.9 L775.5 282.4 L776.3 283.0 L777.2 283.5 L778.0 284.0 L778.9 284.5 L779.7 285.1 L780.6 285.6 L781.5 286.1 L782.3 286.6 L783.2 287.1 L784.0 287.6 L784.9 288.1 L785.8 288.6 L786.6 289.1 L787.5 289.6 L788.4 290.1 L789.2 290.6 L790.1 291.1 L791.0 291.6 L791.8 292.1 L792.7 292.6 L793.6 293.1 L794.5 293.6 L795.3 294.0 L796.2 294.5 L797.1 295.0 L798.0 295.4 L798.9 295.9 L799.8 296.4 L800.6 296.8 L801.5 297.3 L802.4 297.7 L803.3 298.2 L804.2 298.6 L805.1 299.1 L806.0 299.5 L806.9 299.9 L807.8 300.4 L808.7 300.8 L809.6 301.2 L810.5 301.6 L811.5 302.0 L812.4 302.5 L813.3 302.9 L814.2 303.3 L815.1 303.7 L816.0 304.1 L817.0 304.5 L817.9 304.8 L818.8 305.2 L819.7 305.6 L820.7 306.0 L821.6 306.3 L822.5 306.7 L823.5 307.1 L824.4 307.4 L825.3 307.8 L826.3 308.1 L827.2 308.5 L828.2 308.8 L829.1 309.2 L830.1 309.5 L831.0 309.8 L831.9 310.2 L832.9 310.5 L833.8 310.8 L834.8 311.1 L835.7 311.4 L836.7 311.7 L837.7 312.0 L838.6 312.3 L839.6 312.6 L840.5 312.9 L841.5 313.2 L842.4 313.5 L843.4 313.7 L844.4 314.0 L845.3 314.3 L846.3 314.5 L847.3 314.8 L848.2 315.0 L849.2 315.3 L850.2 315.5 L851.1 315.8 L852.1 316.0 L853.1 316.2 L854.0 316.4 L855.0 316.7 L856.0 316.9 L857.0 317.1 L857.9 317.3 L858.9 317.5 L859.9 317.7 L860.9 317.9 L861.9 318.0 L862.8 318.2 L863.8 318.4 L864.8 318.6 L865.8 318.7 L866.8 318.9 L867.7 319.0 L868.7 319.2 L869.7 319.3 L870.7 319.5 L871.7 319.6 L872.7 319.7 L873.6 319.9 L874.6 320.0 L875.6 320.1 L876.6 320.2 L877.6 320.3 L878.6 320.4 L879.6 320.5 L880.5 320.6 L881.5 320.7 L882.5 320.7 L883.5 320.8 L884.5 320.9 L885.5 320.9 L886.5 321.0 L887.5 321.0 L888.5 321.1 L889.5 321.1 L890.4 321.1 L891.4 321.2 L892.4 321.2 L893.4 321.2 L894.4 321.2 L895.4 321.2 L896.4 321.2 L897.4 321.2 L898.4 321.2 L899.4 321.2 L900.3 321.1 L901.3 321.1 L902.3 321.1 L903.3 321.0 L904.3 321.0 L905.3 320.9 L906.3 320.9 L907.3 320.8 L908.3 320.8 L909.3 320.7 L910.2 320.6 L911.2 320.5 L912.2 320.5 L913.2 320.4 L914.2 320.3 L915.2 320.2 L916.2 320.1 L917.2 320.0 L918.2 319.9 L919.2 319.8 L920.1 319.7 L921.1 319.5 L922.1 319.4 L923.1 319.3 L924.1 319.2 L925.1 319.0 L926.1 318.9 L927.1 318.7 L928.0 318.6 L929.0 318.4 L930.0 318.3 L931.0 318.1 L932.0 318.0 L933.0 317.8 L934.0 317.6 L934.9 317.5 L935.9 317.3 L936.9 317.1 L937.9 316.9 L938.9 316.8 L939.9 316.6 L940.8 316.4 L941.8 316.2 L942.8 316.0 L943.8 315.8 L944.8 315.6 L945.8 315.4 L946.7 315.2 L947.7 315.0 L948.7 314.8 L949.7 314.6 L950.7 314.4 L951.6 314.1 L952.6 313.9 L953.6 313.7 L954.6 313.5 L955.5 313.2 L956.5 313.0 L957.5 312.8 L958.5 312.6 L959.4 312.3 L960.4 312.1 L961.4 311.8 L962.4 311.6 L963.3 311.4 L964.3 311.1 L965.3 310.9 L966.2 310.6 L967.2 310.4 L968.2 310.1 L969.1 309.8 L970.1 309.6 L971.1 309.3 L972.0 309.1 L973.0 308.8 L974.0 308.5 L974.9 308.2 L975.9 308.0 L976.9 307.7 L977.8 307.4 L978.8 307.1 L979.8 306.8 L980.7 306.6 L981.7 306.3 L982.6 306.0 L983.6 305.7 L984.5 305.4 L985.5 305.1 L986.5 304.8 L987.4 304.5 L988.4 304.2 L989.3 303.9 L990.3 303.6 L991.2 303.2 L992.2 302.9 L993.1 302.6 L994.1 302.3 L995.0 302.0 L996.0 301.6 L996.9 301.3 L997.9 301.0 L998.8 300.7 L999.7 300.3 L1000.7 300.0 L1001.6 299.6 L1002.6 299.3 L1003.5 299.0 L1004.4 298.6 L1005.4 298.3 L1006.3 297.9 L1007.3 297.6 L1008.2 297.2 L1009.1 296.8 L1010.1 296.5 L1011.0 296.1 L1011.9 295.7 L1012.8 295.4 L1013.8 295.0 L1014.7 294.6 L1015.6 294.3 L1016.5 293.9 L1017.5 293.5 L1018.4 293.1 L1019.3 292.7 L1020.2 292.3 L1021.2 292.0 L1022.1 291.6 L1023.0 291.2 L1023.9 290.8 L1024.8 290.4 L1025.7 290.0 L1026.7 289.6 L1027.6 289.2 L1028.5 288.7 L1029.4 288.3 L1030.3 287.9 L1031.2 287.5 L1032.1 287.1 L1033.0 286.7 L1033.9 286.3 L1034.8 285.8 L1035.7 285.4 L1036.6 285.0 L1037.5 284.6 L1038.4 284.1 L1039.3 283.7 L1040.2 283.3 L1041.1 282.8 L1042.0 282.4 L1042.9 281.9 L1043.8 281.5 L1044.7 281.1 L1045.6 280.6 L1046.5 280.2 L1047.4 279.7 L1048.3 279.3 L1049.2 278.8 L1050.1 278.4 L1051.0 277.9 L1051.9 277.5 L1052.8 277.0 L1053.7 276.6 L1054.5 276.1 L1055.4 275.7 L1056.3 275.2 L1057.2 274.7 L1058.1 274.3 L1059.0 273.8 L1059.9 273.3 L1060.7 272.9 L1061.6 272.4 L1062.5 271.9 L1063.4 271.5 L1064.3 271.0 L1065.1 270.5 L1066.0 270.1 L1066.9 269.6 L1067.8 269.1 L1068.7 268.6 L1069.5 268.2 L1070.4 267.7 L1071.3 267.2 L1072.2 266.7 L1073.0 266.2 L1073.9 265.8 L1074.8 265.3 L1075.7 264.8 L1076.5 264.3 L1077.4 263.8 L1078.3 263.3 L1079.1 262.9 L1080.0 262.4 L1080.9 261.9 L1081.8 261.4 L1082.6 260.9 L1083.5 260.4 L1084.4 259.9 L1085.2 259.5 L1086.1 259.0 L1087.0 258.5 L1087.8 258.0 L1088.7 257.5 L1089.6 257.0 L1090.4 256.5 L1091.3 256.0 L1092.2 255.5 L1093.0 255.0 L1093.9 254.5 L1094.8 254.1 L1095.6 253.6 L1096.5 253.1 L1097.3 252.6 L1098.2 252.1 L1099.1 251.6 L1099.9 251.1 L1100.8 250.6 L1101.7 250.1 L1102.5 249.6 L1103.4 249.1 L1104.2 248.6 L1105.1 248.1 L1106.0 247.6 L1106.8 247.1 L1107.7 246.6 L1108.5 246.1 L1109.4 245.6 L1110.3 245.1 L1111.1 244.6 L1112.0 244.1 L1112.8 243.6 L1113.7 243.1 L1114.6 242.6 L1115.4 242.1 L1116.3 241.6 L1117.1 241.1 L1118.0 240.6 L1118.9 240.1 L1119.7 239.6 L1120.6 239.1 L1121.4 238.6 L1122.3 238.1 L1123.1 237.5 L1124.0 237.0 L1124.9 236.5 L1125.7 236.0 L1126.6 235.5 L1127.4 235.0 L1128.3 234.5 L1129.2 234.0 L1130.0 233.5 L1130.9 233.0 L1131.7 232.5 L1132.6 232.0 L1133.4 231.5 L1134.3 231.0 L1135.2 230.4 L1136.0 229.9 L1136.9 229.4 L1137.7 228.9 L1138.6 228.4 L1139.5 227.9 L1140.3 227.4 L1141.2 226.9 L1142.0 226.4 L1142.9 225.9 L1143.8 225.3 L1144.6 224.8 L1145.5 224.3 L1146.3 223.8 L1147.2 223.3 L1148.1 222.8 L1148.9 222.3 L1149.8 221.8 L1150.6 221.2 L1151.5 220.7 L1152.4 220.2 L1153.2 219.7 L1154.1 219.2 L1155.0 218.7 L1155.8 218.2 L1156.7 217.7 L1157.5 217.1 L1158.4 216.6 L1159.3 216.1 L1160.1 215.6 L1161.0 215.1" stroke="#00B050" stroke-width="3.5"/>
<path d="M161.3 708.8 L162.3 708.7 L163.3 708.6 L164.3 708.5 L165.4 708.5 L166.4 708.4 L167.4 708.3 L168.4 708.2 L169.4 708.2 L170.4 708.1 L171.4 708.1 L172.4 708.0 L173.4 707.9 L174.4 707.9 L175.4 707.8 L176.4 707.8 L177.4 707.7 L178.4 707.7 L179.4 707.6 L180.4 707.6 L181.4 707.5 L182.4 707.5 L183.4 707.5 L184.4 707.4 L185.4 707.4 L186.4 707.3 L187.4 707.3 L188.4 707.2 L189.4 707.2 L190.4 707.1 L191.4 707.1 L192.4 707.0 L193.4 706.9 L194.4 706.9 L195.3 706.8 L196.3 706.8 L197.3 706.7 L198.3 706.6 L199.3 706.5 L200.3 706.5 L201.2 706.4 L202.2 706.3 L203.2 706.2 L204.2 706.1 L205.2 706.0 L206.1 705.9 L207.1 705.8 L208.1 705.6 L209.1 705.5 L210.0 705.4 L211.0 705.3 L212.0 705.1 L212.9 705.0 L213.9 704.8 L214.9 704.6 L215.8 704.5 L216.8 704.3 L217.8 704.1 L218.7 703.9 L219.7 703.7 L220.7 703.5 L221.6 703.3 L222.6 703.0 L223.5 702.8 L224.5 702.6 L225.5 702.3 L226.4 702.0 L227.4 701.8 L228.3 701.5 L229.3 701.2 L230.2 700.9 L231.2 700.6 L232.1 700.2 L233.1 699.9 L234.0 699.6 L235.0 699.2 L235.9 698.9 L236.9 698.5 L237.8 698.2 L238.7 697.8 L239.7 697.4 L240.6 697.0 L241.6 696.6 L242.5 696.2 L243.4 695.8 L244.4 695.4 L245.3 695.0 L246.2 694.6 L247.2 694.2 L248.1 693.7 L249.0 693.3 L249.9 692.9 L250.9 692.4 L251.8 692.0 L252.7 691.5 L253.6 691.1 L254.6 690.6 L255.5 690.2 L256.4 689.7 L257.3 689.2 L258.2 688.8 L259.1 688.3 L260.1 687.8 L261.0 687.4 L261.9 686.9 L262.8 686.4 L263.7 686.0 L264.6 685.5 L265.5 685.0 L266.4 684.6 L267.3 684.1 L268.2 683.6 L269.1 683.1 L270.0 682.7 L270.9 682.2 L271.8 681.7 L272.7 681.3 L273.6 680.8 L274.5 680.4 L275.4 679.9 L276.3 679.4 L277.2 679.0 L278.1 678.5 L278.9 678.1 L279.8 677.6 L280.7 677.1 L281.6 676.7 L282.5 676.2 L283.4 675.8 L284.2 675.3 L285.1 674.9 L286.0 674.4 L286.9 673.9 L287.7 673.5 L288.6 673.0 L289.5 672.6 L290.4 672.1 L291.2 671.6 L292.1 671.2 L292.9 670.7 L293.8 670.2 L294.7 669.8 L295.5 669.3 L296.4 668.8 L297.3 668.4 L298.1 667.9 L299.0 667.4 L299.8 666.9 L300.7 666.4 L301.5 665.9 L302.4 665.5 L303.2 665.0 L304.1 664.5 L304.9 664.0 L305.7 663.5 L306.6 663.0 L307.4 662.4 L308.3 661.9 L309.1 661.4 L309.9 660.9 L310.8 660.4 L311.6 659.8 L312.4 659.3 L313.3 658.8 L314.1 658.2 L314.9 657.7 L315.7 657.1 L316.6 656.6 L317.4 656.0 L318.2 655.5 L319.0 654.9 L319.8 654.3 L320.7 653.8 L321.5 653.2 L322.3 652.6 L323.1 652.0 L323.9 651.4 L324.7 650.8 L325.5 650.2 L326.3 649.6 L327.1 649.0 L327.9 648.4 L328.7 647.8 L329.5 647.2 L330.3 646.6 L331.1 645.9 L331.9 645.3 L332.7 644.7 L333.5 644.1 L334.3 643.4 L335.0 642.8 L335.8 642.2 L336.6 641.5 L337.4 640.9 L338.2 640.2 L338.9 639.6 L339.7 638.9 L340.5 638.3 L341.3 637.6 L342.0 637.0 L342.8 636.3 L343.6 635.6 L344.3 635.0 L345.1 634.3 L345.9 633.7 L346.6 633.0 L347.4 632.3 L348.1 631.6 L348.9 631.0 L349.7 630.3 L350.4 629.6 L351.2 629.0 L351.9 628.3 L352.6 627.6 L353.4 626.9 L354.1 626.2 L354.9 625.6 L355.6 624.9 L356.4 624.2 L357.1 623.5 L357.8 622.8 L358.6 622.2 L359.3 621.5 L360.0 620.8 L360.7 620.1 L361.5 619.4 L362.2 618.7 L362.9 618.0 L363.6 617.4 L364.4 616.7 L365.1 616.0 L365.8 615.3 L366.5 614.6 L367.2 613.9 L367.9 613.2 L368.6 612.5 L369.3 611.8 L370.0 611.1 L370.7 610.4 L371.5 609.7 L372.2 609.0 L372.9 608.3 L373.6 607.6 L374.2 606.9 L374.9 606.2 L375.6 605.5 L376.3 604.8 L377.0 604.1 L377.7 603.4 L378.4 602.6 L379.1 601.9 L379.8 601.2 L380.5 600.5 L381.1 599.8 L381.8 599.1 L382.5 598.4 L383.2 597.6 L383.9 596.9 L384.5 596.2 L385.2 595.5 L385.9 594.8 L386.6 594.0 L387.2 593.3 L387.9 592.6 L388.6 591.8 L389.2 591.1 L389.9 590.4 L390.6 589.7 L391.2 588.9 L391.9 588.2 L392.5 587.5 L393.2 586.7 L393.9 586.0 L394.5 585.2 L395.2 584.5 L395.8 583.8 L396.5 583.0 L397.1 582.3 L397.8 581.5 L398.4 580.8 L399.1 580.0 L399.7 579.3 L400.4 578.5 L401.0 577.8 L401.7 577.0 L402.3 576.3 L403.0 575.5 L403.6 574.8 L404.2 574.0 L404.9 573.3 L405.5 572.5 L406.2 571.7 L406.8 571.0 L407.4 570.2 L408.1 569.4 L408.7 568.7 L409.3 567.9 L410.0 567.1 L410.6 566.4 L411.2 565.6 L411.9 564.8 L412.5 564.0 L413.1 563.3 L413.8 562.5 L414.4 561.7 L415.0 560.9 L415.6 560.1 L416.3 559.3 L416.9 558.6 L417.5 557.8 L418.1 557.0 L418.7 556.2 L419.4 555.4 L420.0 554.6 L420.6 553.8 L421.2 553.0 L421.8 552.2 L422.5 551.4 L423.1 550.6 L423.7 549.8 L424.3 549.0 L424.9 548.2 L425.5 547.4 L426.1 546.6 L426.8 545.8 L427.4 544.9 L428.0 544.1 L428.6 543.3 L429.2 542.5 L429.8 541.7 L430.4 540.9 L431.0 540.0 L431.6 539.2 L432.2 538.4 L432.8 537.6 L433.4 536.7 L434.0 535.9 L434.6 535.1 L435.1 534.2 L435.7 533.4 L436.3 532.6 L436.9 531.7 L437.5 530.9 L438.0 530.1 L438.6 529.2 L439.2 528.4 L439.8 527.5 L440.3 526.7 L440.9 525.8 L441.5 525.0 L442.0 524.1 L442.6 523.3 L443.1 522.4 L443.7 521.6 L444.2 520.7 L444.8 519.9 L445.3 519.0 L445.8 518.2 L446.4 517.3 L446.9 516.4 L447.4 515.6 L448.0 514.7 L448.5 513.9 L449.0 513.0 L449.5 512.1 L450.0 511.3 L450.5 510.4 L451.0 509.5 L451.5 508.6 L452.0 507.8 L452.5 506.9 L453.0 506.0 L453.5 505.1 L454.0 504.3 L454.4 503.4 L454.9 502.5 L455.4 501.6 L455.9 500.7 L456.3 499.9 L456.8 499.0 L457.2 498.1 L457.7 497.2 L458.1 496.3 L458.6 495.4 L459.0 494.5 L459.5 493.6 L459.9 492.8 L460.3 491.9 L460.8 491.0 L461.2 490.1 L461.6 489.2 L462.0 488.3 L462.4 487.4 L462.9 486.5 L463.3 485.6 L463.7 484.7 L464.1 483.8 L464.5 482.9 L464.9 482.0 L465.3 481.0 L465.7 480.1 L466.1 479.2 L466.5 478.3 L466.8 477.4 L467.2 476.5 L467.6 475.6 L468.0 474.7 L468.4 473.8 L468.7 472.8 L469.1 471.9 L469.5 471.0 L469.8 470.1 L470.2 469.2 L470.5 468.2 L470.9 467.3 L471.3 466.4 L471.6 465.5 L472.0 464.6 L472.3 463.6 L472.7 462.7 L473.0 461.8 L473.3 460.8 L473.7 459.9 L474.0 459.0 L474.3 458.1 L474.7 457.1 L475.0 456.2 L475.3 455.3 L475.7 454.3 L476.0 453.4 L476.3 452.5 L476.6 451.5 L476.9 450.6 L477.3 449.6 L477.6 448.7 L477.9 447.8 L478.2 446.8 L478.5 445.9 L478.8 444.9 L479.1 444.0 L479.4 443.1 L479.7 442.1 L480.0 441.2 L480.3 440.2 L480.6 439.3 L480.9 438.3 L481.2 437.4 L481.5 436.4 L481.8 435.5 L482.1 434.5 L482.3 433.6 L482.6 432.6 L482.9 431.7 L483.2 430.7 L483.5 429.8 L483.7 428.8 L484.0 427.9 L484.3 426.9 L484.6 426.0 L484.8 425.0 L485.1 424.0 L485.4 423.1 L485.6 422.1 L485.9 421.2 L486.2 420.2 L486.4 419.2 L486.7 418.3 L486.9 417.3 L487.2 416.4 L487.5 415.4 L487.7 414.4 L488.0 413.5 L488.2 412.5 L488.5 411.5 L488.7 410.6 L489.0 409.6 L489.2 408.6 L489.5 407.7 L489.7 406.7 L489.9 405.7 L490.2 404.8 L490.4 403.8 L490.7 402.8 L490.9 401.9 L491.1 400.9 L491.4 399.9 L491.6 398.9 L491.9 398.0 L492.1 397.0 L492.3 396.0 L492.6 395.1 L492.8 394.1 L493.0 393.1 L493.2 392.1 L493.5 391.2 L493.7 390.2 L493.9 389.2 L494.1 388.2 L494.4 387.3 L494.6 386.3 L494.8 385.3 L495.0 384.3 L495.3 383.4 L495.5 382.4 L495.7 381.4 L495.9 380.4 L496.1 379.4 L496.3 378.5 L496.6 377.5 L496.8 376.5 L497.0 375.5 L497.2 374.5 L497.4 373.6 L497.6 372.6 L497.8 371.6 L498.1 370.6 L498.3 369.6 L498.5 368.7 L498.7 367.7 L498.9 366.7 L499.1 365.7 L499.3 364.7 L499.5 363.8 L499.7 362.8 L499.9 361.8 L500.1 360.8 L500.4 359.8 L500.6 358.8 L500.8 357.9 L501.0 356.9 L501.2 355.9 L501.4 354.9 L501.6 353.9 L501.8 352.9 L502.0 351.9 L502.2 351.0 L502.4 350.0 L502.6 349.0 L502.8 348.0 L503.0 347.0 L503.2 346.0 L503.4 345.1 L503.6 344.1 L503.8 343.1 L504.0 342.1 L504.2 341.1 L504.4 340.1 L504.6 339.1 L504.8 338.2 L505.0 337.2 L505.3 336.2 L505.5 335.2 L505.7 334.2 L505.9 333.2 L506.1 332.3 L506.3 331.3 L506.5 330.3 L506.7 329.3 L506.9 328.3 L507.1 327.3 L507.3 326.3 L507.5 325.4 L507.7 324.4 L507.9 323.4 L508.1 322.4 L508.3 321.4 L508.5 320.4 L508.7 319.5 L508.9 318.5 L509.1 317.5 L509.4 316.5 L509.6 315.5 L509.8 314.5 L510.0 313.6 L510.2 312.6 L510.4 311.6 L510.6 310.6 L510.8 309.6 L511.0 308.6 L511.2 307.7 L511.5 306.7 L511.7 305.7 L511.9 304.7 L512.1 303.7 L512.3 302.8 L512.5 301.8 L512.7 300.8 L513.0 299.8 L513.2 298.8 L513.4 297.9 L513.6 296.9 L513.8 295.9 L514.1 294.9 L514.3 293.9 L514.5 293.0 L514.7 292.0 L514.9 291.0 L515.2 290.0 L515.4 289.1 L515.6 288.1 L515.9 287.1 L516.1 286.1 L516.3 285.1 L516.5 284.2 L516.8 283.2 L517.0 282.2 L517.2 281.2 L517.5 280.3 L517.7 279.3 L517.9 278.3 L518.2 277.4 L518.4 276.4 L518.7 275.4 L518.9 274.4 L519.1 273.5 L519.4 272.5 L519.6 271.5 L519.9 270.6 L520.1 269.6 L520.4 268.6 L520.6 267.7 L520.9 266.7 L521.1 265.7 L521.4 264.8 L521.6 263.8 L521.9 262.8 L522.2 261.9 L522.4 260.9 L522.7 259.9 L522.9 259.0 L523.2 258.0 L523.5 257.1 L523.7 256.1 L524.0 255.1 L524.3 254.2 L524.5 253.2 L524.8 252.3 L525.1 251.3 L525.4 250.3 L525.6 249.4 L525.9 248.4 L526.2 247.5 L526.5 246.5 L526.8 245.6 L527.0 244.6 L527.3 243.7 L527.6 242.7 L527.9 241.7 L528.2 240.8 L528.5 239.8 L528.8 238.9 L529.1 238.0 L529.4 237.0 L529.7 236.1 L530.1 235.1 L530.4 234.2 L530.8 233.3 L531.1 232.4 L531.5 231.5 L531.9 230.6 L532.4 229.7 L532.8 228.8 L533.3 228.0 L533.8 227.1 L534.3 226.3 L534.8 225.5 L535.4 224.7 L536.0 223.9 L536.7 223.1 L537.3 222.4 L538.0 221.6 L538.8 220.9 L539.5 220.2 L540.3 219.6 L541.2 219.0 L542.0 218.6 L542.9 218.2 L543.7 217.9 L544.6 217.7 L545.5 217.6 L546.3 217.7 L547.2 217.9 L548.1 218.3 L548.9 218.7 L549.8 219.1 L550.6 219.7 L551.4 220.3 L552.1 220.9 L552.9 221.6 L553.6 222.3 L554.2 223.1 L554.9 223.9 L555.5 224.7 L556.1 225.5 L556.7 226.4 L557.2 227.2 L557.8 228.1 L558.3 229.1 L558.8 230.0 L559.3 230.9 L559.8 231.9 L560.3 232.9 L560.7 233.8 L561.2 234.8 L561.6 235.8 L562.0 236.8 L562.5 237.7 L562.9 238.7 L563.3 239.7 L563.7 240.6 L564.1 241.6 L564.5 242.5 L565.0 243.4 L565.4 244.3 L565.8 245.2 L566.2 246.1 L566.6 247.0 L567.1 247.8 L567.5 248.7 L567.9 249.5 L568.3 250.3 L568.8 251.2 L569.2 252.0 L569.6 252.8 L570.0 253.6 L570.4 254.4 L570.8 255.3 L571.2 256.1 L571.6 256.9 L572.0 257.8 L572.4 258.6 L572.8 259.4 L573.1 260.3 L573.5 261.2 L573.9 262.1 L574.2 263.0 L574.5 263.9 L574.9 264.8 L575.2 265.8 L575.5 266.7 L575.8 267.7 L576.1 268.7 L576.3 269.8 L576.6 270.8 L576.9 271.9 L577.1 273.0 L577.3 274.1 L577.5 275.3 L577.7 276.5 L578.5 278.3 L579.2 280.2 L580.0 282.0 L580.6 283.4 L581.2 284.8 L581.8 286.2 L582.4 287.6 L583.0 289.0 L584.2 290.3 L585.3 291.7 L586.5 293.0 L587.2 295.0 L588.0 297.0 L587.6 298.7 L587.2 300.3 L586.8 302.0 L588.2 302.7 L589.6 303.3 L591.0 304.0 L591.7 305.4 L592.5 306.7 L593.2 308.1 L594.0 309.4 L594.7 310.8 L595.5 312.2 L596.4 313.6 L597.2 315.1 L598.0 316.5 L599.3 317.7 L600.7 318.8 L602.0 320.0 L603.2 321.2 L604.4 322.3 L605.6 323.5 L606.4 325.0 L607.1 326.6 L607.9 328.1 L608.6 329.6 L609.0 331.1 L609.5 332.7 L609.9 334.2 L610.3 335.7 L610.7 337.2 L611.2 338.8 L611.6 340.3 L612.5 339.1 L613.4 337.9 L614.4 336.6 L615.3 335.4 L616.2 334.2 L616.8 335.7 L617.4 337.2 L617.9 338.7 L618.5 340.2 L619.1 341.8 L619.6 343.3 L620.2 344.8 L620.8 346.3 L620.1 347.9 L619.4 349.4 L618.7 351.0 L620.4 349.5 L622.0 348.0 L623.1 346.9 L624.2 345.9 L625.3 344.8 L626.7 345.5 L628.1 346.3 L629.5 347.0 L629.8 348.6 L630.0 350.1 L630.3 351.7 L630.6 353.3 L630.9 354.9 L631.1 356.4 L631.4 358.0 L632.9 357.7 L634.5 357.2 L636.0 356.5 L637.1 355.7 L638.1 358.6 L639.2 355.4 L640.2 357.3 L641.3 358.8 L642.3 355.6 L643.3 357.4 L644.3 357.5 L645.3 355.2 L646.3 356.4 L647.3 357.4 L648.3 356.3 L649.3 357.1 L650.2 354.7 L651.2 354.8 L652.1 354.0 L653.1 355.3 L654.0 356.5 L654.9 354.9 L655.9 355.3 L656.8 353.5 L657.7 354.5 L658.6 351.6 L659.5 351.9 L660.4 353.0 L661.2 352.7 L662.1 351.1 L663.0 349.4 L663.8 349.6 L664.7 349.0 L665.5 348.7 L666.4 350.3 L667.2 347.4 L668.0 349.5 L668.9 349.0 L669.7 345.3 L670.5 346.0 L671.3 345.9 L672.1 343.6 L672.9 344.5 L673.7 345.8 L674.5 342.2 L675.2 343.5 L676.0 341.0 L676.8 342.2 L677.5 342.8 L678.3 339.5 L679.0 338.2 L679.8 337.8 L680.5 338.9 L681.2 336.3 L682.0 335.9 L682.7 336.8 L683.4 337.7 L684.1 335.1 L684.8 334.4 L685.5 334.1 L686.2 333.4 L686.9 332.7 L687.6 332.0 L688.3 331.2 L688.9 330.5 L689.6 329.8 L690.3 329.1 L691.0 328.3 L691.6 327.6 L692.3 326.8 L692.9 326.1 L693.6 325.3 L694.2 324.6 L694.9 323.8 L695.5 323.0 L696.1 322.3 L696.7 321.5 L697.4 320.7 L698.0 319.9 L698.6 319.1 L699.2 318.3 L699.8 317.5 L700.4 316.7 L701.0 315.9 L701.6 315.1 L702.2 314.3 L702.8 313.4 L703.4 312.6 L704.0 311.8 L704.6 311.0 L705.2 310.1 L705.8 309.3 L706.3 308.5 L706.9 307.6 L707.5 306.8 L708.1 305.9 L708.6 305.1 L709.2 304.2 L709.7 303.4 L710.3 302.5 L710.9 301.7 L711.4 300.8 L712.0 300.0 L712.5 299.1 L713.1 298.3 L713.6 297.4 L714.1 296.5 L714.7 295.7 L715.2 294.8 L715.8 294.0 L716.3 293.1 L716.8 292.2 L717.4 291.4 L717.9 290.5 L718.4 289.6 L719.0 288.8 L719.5 287.9 L720.0 287.0 L720.5 286.2 L721.1 285.3 L721.6 284.5 L722.1 283.6 L722.6 282.7 L723.1 281.9 L723.7 281.0 L724.2 280.1 L724.7 279.3 L725.2 278.4 L725.7 277.5 L726.2 276.7 L726.7 275.8 L727.2 274.9 L727.8 274.1 L728.3 273.2 L728.8 272.3 L729.3 271.5 L729.8 270.6 L730.3 269.7 L730.8 268.9 L731.3 268.0 L731.8 267.1 L732.3 266.3 L732.8 265.4 L733.3 264.5 L733.8 263.7 L734.3 262.8 L734.8 262.0 L735.3 261.1 L735.7 260.2 L736.2 259.4 L736.7 258.5 L737.2 257.6 L737.7 256.8 L738.2 255.9 L738.7 255.0 L739.2 254.2 L739.7 253.3 L740.2 252.4 L740.6 251.6 L741.1 250.7 L741.6 249.8 L742.1 249.0 L742.6 248.1 L743.1 247.2 L743.6 246.4 L744.0 245.5 L744.5 244.6 L745.0 243.8 L745.5 242.9 L746.0 242.0 L746.4 241.2 L746.9 240.3 L747.4 239.4 L747.9 238.6 L748.4 237.7 L748.9 236.8 L749.3 236.0 L749.8 235.1 L750.3 234.2 L750.8 233.4 L751.3 232.5 L751.7 231.6 L752.2 230.8 L752.7 229.9 L753.2 229.0 L753.7 228.2 L754.1 227.3 L754.6 226.4 L755.1 225.6 L755.6 224.7 L756.1 223.8 L756.5 223.0 L757.0 222.1 L757.5 221.2 L758.0 220.4 L758.5 219.5 L759.0 218.6 L759.4 217.8 L759.9 216.9 L760.4 216.0 L760.9 215.2 L761.4 214.3 L761.9 213.4 L762.3 212.6 L762.8 211.7 L763.3 210.8 L763.8 210.0 L764.3 209.1 L764.8 208.2 L765.3 207.4 L765.7 206.5 L766.2 205.6 L766.7 204.8 L767.2 203.9 L767.7 203.0 L768.2 202.2 L768.7 201.3 L769.2 200.4 L769.7 199.6 L770.2 198.7 L770.7 197.9 L771.2 197.0 L771.7 196.1 L772.2 195.3 L772.7 194.4 L773.2 193.5 L773.7 192.7 L774.2 191.8 L774.7 190.9 L775.2 190.1 L775.7 189.2 L776.2 188.4 L776.7 187.5 L777.2 186.6 L777.7 185.8 L778.2 184.9 L778.7 184.0 L779.2 183.2 L779.7 182.3 L780.2 181.5 L780.8 180.6 L781.3 179.7 L781.8 178.9 L782.3 178.0 L782.8 177.2 L783.4 176.3 L783.9 175.4 L784.4 174.6 L785.0 173.7 L785.5 172.9 L786.0 172.0 L786.6 171.2 L787.1 170.3 L787.7 169.5 L788.2 168.6 L788.8 167.8 L789.3 167.0 L789.9 166.1 L790.4 165.3 L791.0 164.5 L791.6 163.6 L792.1 162.8 L792.7 162.0 L793.3 161.2 L793.9 160.4 L794.5 159.6 L795.1 158.7 L795.7 157.9 L796.3 157.1 L796.9 156.3 L797.5 155.6 L798.2 154.8 L798.8 154.0 L799.4 153.2 L800.1 152.4 L800.7 151.7 L801.4 150.9 L802.1 150.2 L802.7 149.4 L803.4 148.7 L804.1 147.9 L804.8 147.2 L805.5 146.5 L806.2 145.7 L806.9 145.0 L807.6 144.3 L808.3 143.6 L809.1 142.9 L809.8 142.2 L810.6 141.5 L811.3 140.9 L812.1 140.2 L812.9 139.5 L813.7 138.9 L814.5 138.2 L815.3 137.6 L816.1 137.0 L816.9 136.4 L817.7 135.8 L818.6 135.2 L819.4 134.6 L820.2 134.1 L821.1 133.5 L822.0 133.0 L822.8 132.5 L823.7 132.0 L824.6 131.5 L825.5 131.1 L826.4 130.7 L827.3 130.2 L828.3 129.8 L829.2 129.5 L830.1 129.1 L831.1 128.8 L832.0 128.5 L833.0 128.2 L834.0 127.9 L834.9 127.7 L835.9 127.5 L836.9 127.3 L837.8 127.2 L838.8 127.0 L839.8 126.9 L840.8 126.9 L841.7 126.8 L842.7 126.8 L843.7 126.8 L844.6 126.9 L845.6 127.0 L846.5 127.1 L847.5 127.2 L848.4 127.4 L849.3 127.6 L850.3 127.8 L851.2 128.0 L852.1 128.3 L853.0 128.6 L853.9 128.9 L854.8 129.2 L855.7 129.5 L856.6 129.9 L857.5 130.3 L858.4 130.7 L859.3 131.1 L860.2 131.6 L861.0 132.0 L861.9 132.5 L862.8 133.0 L863.6 133.5 L864.5 134.1 L865.3 134.6 L866.2 135.1 L867.0 135.7 L867.9 136.3 L868.7 136.9 L869.5 137.4 L870.3 138.0 L871.2 138.7 L872.0 139.3 L872.8 139.9 L873.6 140.5 L874.4 141.2 L875.2 141.8 L876.0 142.5 L876.8 143.1 L877.6 143.8 L878.4 144.4 L879.1 145.1 L879.9 145.8 L880.7 146.5 L881.5 147.1 L882.2 147.8 L883.0 148.5 L883.7 149.2 L884.5 149.9 L885.2 150.6 L886.0 151.3 L886.7 152.0 L887.5 152.7 L888.2 153.4 L888.9 154.1 L889.6 154.9 L890.4 155.6 L891.1 156.3 L891.8 157.0 L892.5 157.7 L893.2 158.5 L893.9 159.2 L894.6 159.9 L895.3 160.7 L896.0 161.4 L896.7 162.1 L897.4 162.9 L898.1 163.6 L898.7 164.3 L899.4 165.1 L900.1 165.8 L900.7 166.6 L901.4 167.3 L902.1 168.1 L902.7 168.8 L903.4 169.6 L904.1 170.3 L904.7 171.1 L905.4 171.8 L906.0 172.6 L906.7 173.3 L907.3 174.1 L907.9 174.8 L908.6 175.6 L909.2 176.4 L909.9 177.1 L910.5 177.9 L911.1 178.7 L911.8 179.4 L912.4 180.2 L913.0 180.9 L913.7 181.7 L914.3 182.5 L914.9 183.2 L915.5 184.0 L916.1 184.8 L916.8 185.6 L917.4 186.3 L918.0 187.1 L918.6 187.9 L919.3 188.6 L919.9 189.4 L920.5 190.2 L921.1 191.0 L921.7 191.7 L922.3 192.5 L923.0 193.3 L923.6 194.1 L924.2 194.9 L924.8 195.6 L925.4 196.4 L926.0 197.2 L926.7 198.0 L927.3 198.7 L927.9 199.5 L928.5 200.3 L929.1 201.1 L929.7 201.9 L930.4 202.6 L931.0 203.4 L931.6 204.2 L932.2 205.0 L932.8 205.8 L933.4 206.5 L934.1 207.3 L934.7 208.1 L935.3 208.9 L935.9 209.7 L936.5 210.4 L937.2 211.2 L937.8 212.0 L938.4 212.8 L939.0 213.5 L939.7 214.3 L940.3 215.1 L940.9 215.9 L941.5 216.7 L942.2 217.4 L942.8 218.2 L943.4 219.0 L944.0 219.8 L944.7 220.5 L945.3 221.3 L945.9 222.1 L946.6 222.9 L947.2 223.6 L947.8 224.4 L948.5 225.2 L949.1 226.0 L949.7 226.7 L950.4 227.5 L951.0 228.3 L951.6 229.0 L952.3 229.8 L952.9 230.6 L953.6 231.4 L954.2 232.1 L954.8 232.9 L955.5 233.7 L956.1 234.4 L956.8 235.2 L957.4 235.9 L958.1 236.7 L958.7 237.5 L959.4 238.2 L960.0 239.0 L960.7 239.7 L961.3 240.5 L962.0 241.3 L962.7 242.0 L963.3 242.8 L964.0 243.5 L964.6 244.3 L965.3 245.0 L966.0 245.8 L966.6 246.5 L967.3 247.3 L968.0 248.0 L968.6 248.8 L969.3 249.5 L970.0 250.2 L970.6 251.0 L971.3 251.7 L972.0 252.5 L972.7 253.2 L973.4 253.9 L974.0 254.7 L974.7 255.4 L975.4 256.1 L976.1 256.8 L976.8 257.6 L977.5 258.3 L978.2 259.0 L978.9 259.7 L979.5 260.5 L980.2 261.2 L980.9 261.9 L981.6 262.6 L982.3 263.3 L983.0 264.0 L983.8 264.7 L984.5 265.5 L985.2 266.2 L985.9 266.9 L986.6 267.6 L987.3 268.3 L988.0 269.0 L988.7 269.7 L989.5 270.4 L990.2 271.0 L990.9 271.7 L991.6 272.4 L992.4 273.1 L993.1 273.8 L993.8 274.5 L994.6 275.2 L995.3 275.8 L996.1 276.5 L996.8 277.2 L997.5 277.9 L998.3 278.5 L999.0 279.2 L999.8 279.9 L1000.5 280.5 L1001.3 281.2 L1002.1 281.8 L1002.8 282.5 L1003.6 283.1 L1004.3 283.8 L1005.1 284.4 L1005.9 285.1 L1006.6 285.7 L1007.4 286.4 L1008.2 287.0 L1008.9 287.6 L1009.7 288.3 L1010.5 288.9 L1011.3 289.5 L1012.1 290.2 L1012.8 290.8 L1013.6 291.4 L1014.4 292.0 L1015.2 292.6 L1016.0 293.3 L1016.8 293.9 L1017.6 294.5 L1018.4 295.1 L1019.2 295.7 L1020.0 296.3 L1020.8 296.9 L1021.6 297.5 L1022.4 298.1 L1023.2 298.7 L1024.0 299.3 L1024.8 299.8 L1025.6 300.4 L1026.4 301.0 L1027.3 301.6 L1028.1 302.2 L1028.9 302.7 L1029.7 303.3 L1030.5 303.9 L1031.4 304.4 L1032.2 305.0 L1033.0 305.5 L1033.9 306.1 L1034.7 306.6 L1035.5 307.2 L1036.4 307.7 L1037.2 308.3 L1038.0 308.8 L1038.9 309.4 L1039.7 309.9 L1040.6 310.4 L1041.4 311.0 L1042.3 311.5 L1043.1 312.0 L1044.0 312.5 L1044.8 313.0 L1045.7 313.5 L1046.5 314.1 L1047.4 314.6 L1048.2 315.1 L1049.1 315.6 L1050.0 316.1 L1050.8 316.6 L1051.7 317.0 L1052.6 317.5 L1053.4 318.0 L1054.3 318.5 L1055.2 319.0 L1056.1 319.5 L1056.9 319.9 L1057.8 320.4 L1058.7 320.9 L1059.6 321.3 L1060.5 321.8 L1061.3 322.2 L1062.2 322.7 L1063.1 323.1 L1064.0 323.6 L1064.9 324.0 L1065.8 324.5 L1066.7 324.9 L1067.6 325.3 L1068.5 325.7 L1069.4 326.2 L1070.3 326.6 L1071.2 327.0 L1072.1 327.4 L1073.0 327.8 L1073.9 328.2 L1074.8 328.6 L1075.7 329.0 L1076.6 329.4 L1077.5 329.8 L1078.4 330.2 L1079.4 330.6 L1080.3 331.0 L1081.2 331.3 L1082.1 331.7 L1083.0 332.1 L1084.0 332.5 L1084.9 332.8 L1085.8 333.2 L1086.7 333.5 L1087.7 333.9 L1088.6 334.2 L1089.5 334.6 L1090.5 334.9 L1091.4 335.2 L1092.3 335.6 L1093.3 335.9 L1094.2 336.2 L1095.1 336.6 L1096.1 336.9 L1097.0 337.2 L1098.0 337.5 L1098.9 337.8 L1099.9 338.1 L1100.8 338.4 L1101.8 338.7 L1102.7 339.0 L1103.7 339.3 L1104.6 339.5 L1105.6 339.8 L1106.5 340.1 L1107.5 340.3 L1108.4 340.6 L1109.4 340.9 L1110.4 341.1 L1111.3 341.4 L1112.3 341.6 L1113.3 341.9 L1114.2 342.1 L1115.2 342.3 L1116.2 342.6 L1117.1 342.8 L1118.1 343.0 L1119.1 343.2 L1120.0 343.4 L1121.0 343.7 L1122.0 343.9 L1123.0 344.1 L1124.0 344.3 L1124.9 344.4 L1125.9 344.6 L1126.9 344.8 L1127.9 345.0 L1128.9 345.2 L1129.9 345.3 L1130.8 345.5 L1131.8 345.7 L1132.8 345.8 L1133.8 346.0 L1134.8 346.1 L1135.8 346.3 L1136.8 346.4 L1137.8 346.5 L1138.8 346.7 L1139.8 346.8 L1140.8 346.9 L1141.8 347.0 L1142.8 347.1 L1143.8 347.2 L1144.8 347.3 L1145.8 347.4 L1146.8 347.5 L1147.8 347.6 L1148.8 347.7 L1149.8 347.8 L1150.8 347.8 L1151.9 347.9 L1152.9 348.0 L1153.9 348.0 L1154.9 348.1 L1155.9 348.1 L1156.9 348.2 L1157.9 348.2 L1159.0 348.2 L1160.0 348.3 L1161.0 348.3" stroke="#FF0000" stroke-width="3.6" stroke-dasharray="10.6 14.2" stroke-dashoffset="13.7"/>
</g>
<g fill="none" stroke-linecap="round">
<path d="M829.6 501.9H890.1" stroke="#4472C4" stroke-width="3.3"/>
<path d="M829.6 544.6H890.1" stroke="#000" stroke-width="3.5"/>
<path d="M829.6 585.8H890.1" stroke="#00B050" stroke-width="3.5"/>
<path d="M829.6 627.1H890.1" stroke="#FF0000" stroke-width="3.6" stroke-dasharray="10.6 14.2"/>
</g>
<g font-size="22"><text transform="translate(898 509.7) scale(1 1.08)">As deposited</text><text transform="translate(898 552.4) scale(1 1.08)">After Full CHT</text><text transform="translate(898 593.6) scale(1 1.08)">After Full CHT w/ CdS</text><text transform="translate(898 634.9) scale(1 1.08)">After Mild CHT w/ CdS</text></g>
<g font-size="21.5" font-weight="bold">
<text x="249.5" y="503.8">ZnTe</text>
<text x="648.3" y="503.8">CdTe</text>
</g>
<path d="M326.7 501.5H610" stroke="#4472C4" stroke-width="4.6"/>
<path d="M608.9 494.3L624.3 501.5L608.9 508.9Z" fill="#4472C4"/>
</svg>
</body></html>
